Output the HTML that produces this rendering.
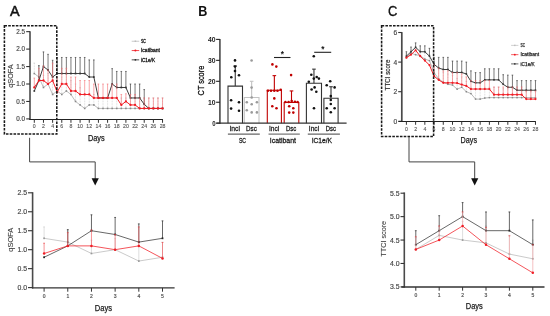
<!DOCTYPE html><html><head><meta charset="utf-8"><style>html,body{margin:0;padding:0;background:#fff;overflow:hidden}svg{display:block;will-change:transform}text{font-family:"Liberation Sans",sans-serif}</style></head><body>
<svg width="550" height="316" viewBox="0 0 550 316">
<rect width="550" height="316" fill="#fff"/>
<text x="10" y="16.1" font-size="14.6" text-anchor="start" fill="#111" font-weight="normal" stroke="#111" stroke-width="0.5" textLength="9.6" lengthAdjust="spacingAndGlyphs" >A</text>
<line x1="34.3" y1="73.53" x2="34.3" y2="63.06" stroke="#c4c4c4" stroke-width="0.6" stroke-dasharray="0.9 0.7"/>
<line x1="33.5" y1="63.06" x2="35.1" y2="63.06" stroke="#c4c4c4" stroke-width="0.6" />
<line x1="38.88" y1="77.02" x2="38.88" y2="66.55" stroke="#c4c4c4" stroke-width="0.6" stroke-dasharray="0.9 0.7"/>
<line x1="38.08" y1="66.55" x2="39.68" y2="66.55" stroke="#c4c4c4" stroke-width="0.6" />
<line x1="43.46" y1="87.49" x2="43.46" y2="75.28" stroke="#c4c4c4" stroke-width="0.6" stroke-dasharray="0.9 0.7"/>
<line x1="42.66" y1="75.28" x2="44.26" y2="75.28" stroke="#c4c4c4" stroke-width="0.6" />
<line x1="48.04" y1="84" x2="48.04" y2="73.53" stroke="#c4c4c4" stroke-width="0.6" stroke-dasharray="0.9 0.7"/>
<line x1="47.24" y1="73.53" x2="48.84" y2="73.53" stroke="#c4c4c4" stroke-width="0.6" />
<line x1="52.62" y1="94.47" x2="52.62" y2="77.02" stroke="#c4c4c4" stroke-width="0.6" stroke-dasharray="0.9 0.7"/>
<line x1="51.82" y1="77.02" x2="53.42" y2="77.02" stroke="#c4c4c4" stroke-width="0.6" />
<line x1="57.2" y1="90.98" x2="57.2" y2="77.02" stroke="#c4c4c4" stroke-width="0.6" stroke-dasharray="0.9 0.7"/>
<line x1="56.4" y1="77.02" x2="58" y2="77.02" stroke="#c4c4c4" stroke-width="0.6" />
<line x1="61.78" y1="94.47" x2="61.78" y2="77.02" stroke="#c4c4c4" stroke-width="0.6" stroke-dasharray="0.9 0.7"/>
<line x1="60.98" y1="77.02" x2="62.58" y2="77.02" stroke="#c4c4c4" stroke-width="0.6" />
<line x1="66.36" y1="90.98" x2="66.36" y2="73.53" stroke="#c4c4c4" stroke-width="0.6" stroke-dasharray="0.9 0.7"/>
<line x1="65.56" y1="73.53" x2="67.16" y2="73.53" stroke="#c4c4c4" stroke-width="0.6" />
<line x1="70.94" y1="94.47" x2="70.94" y2="80.51" stroke="#c4c4c4" stroke-width="0.6" stroke-dasharray="0.9 0.7"/>
<line x1="70.14" y1="80.51" x2="71.74" y2="80.51" stroke="#c4c4c4" stroke-width="0.6" />
<line x1="75.52" y1="101.45" x2="75.52" y2="84" stroke="#c4c4c4" stroke-width="0.6" stroke-dasharray="0.9 0.7"/>
<line x1="74.72" y1="84" x2="76.32" y2="84" stroke="#c4c4c4" stroke-width="0.6" />
<line x1="80.1" y1="104.94" x2="80.1" y2="87.49" stroke="#c4c4c4" stroke-width="0.6" stroke-dasharray="0.9 0.7"/>
<line x1="79.3" y1="87.49" x2="80.9" y2="87.49" stroke="#c4c4c4" stroke-width="0.6" />
<line x1="84.68" y1="108.43" x2="84.68" y2="94.47" stroke="#c4c4c4" stroke-width="0.6" stroke-dasharray="0.9 0.7"/>
<line x1="83.88" y1="94.47" x2="85.48" y2="94.47" stroke="#c4c4c4" stroke-width="0.6" />
<line x1="89.26" y1="104.94" x2="89.26" y2="94.47" stroke="#c4c4c4" stroke-width="0.6" stroke-dasharray="0.9 0.7"/>
<line x1="88.46" y1="94.47" x2="90.06" y2="94.47" stroke="#c4c4c4" stroke-width="0.6" />
<line x1="93.84" y1="104.94" x2="93.84" y2="94.47" stroke="#c4c4c4" stroke-width="0.6" stroke-dasharray="0.9 0.7"/>
<line x1="93.04" y1="94.47" x2="94.64" y2="94.47" stroke="#c4c4c4" stroke-width="0.6" />
<line x1="98.42" y1="108.43" x2="98.42" y2="97.96" stroke="#c4c4c4" stroke-width="0.6" stroke-dasharray="0.9 0.7"/>
<line x1="97.62" y1="97.96" x2="99.22" y2="97.96" stroke="#c4c4c4" stroke-width="0.6" />
<line x1="103" y1="108.43" x2="103" y2="97.96" stroke="#c4c4c4" stroke-width="0.6" stroke-dasharray="0.9 0.7"/>
<line x1="102.2" y1="97.96" x2="103.8" y2="97.96" stroke="#c4c4c4" stroke-width="0.6" />
<line x1="107.58" y1="108.43" x2="107.58" y2="97.96" stroke="#c4c4c4" stroke-width="0.6" stroke-dasharray="0.9 0.7"/>
<line x1="106.78" y1="97.96" x2="108.38" y2="97.96" stroke="#c4c4c4" stroke-width="0.6" />
<line x1="112.16" y1="108.43" x2="112.16" y2="97.96" stroke="#c4c4c4" stroke-width="0.6" stroke-dasharray="0.9 0.7"/>
<line x1="111.36" y1="97.96" x2="112.96" y2="97.96" stroke="#c4c4c4" stroke-width="0.6" />
<line x1="116.74" y1="108.43" x2="116.74" y2="97.96" stroke="#c4c4c4" stroke-width="0.6" stroke-dasharray="0.9 0.7"/>
<line x1="115.94" y1="97.96" x2="117.54" y2="97.96" stroke="#c4c4c4" stroke-width="0.6" />
<line x1="121.32" y1="108.43" x2="121.32" y2="97.96" stroke="#c4c4c4" stroke-width="0.6" stroke-dasharray="0.9 0.7"/>
<line x1="120.52" y1="97.96" x2="122.12" y2="97.96" stroke="#c4c4c4" stroke-width="0.6" />
<line x1="125.9" y1="108.43" x2="125.9" y2="97.96" stroke="#c4c4c4" stroke-width="0.6" stroke-dasharray="0.9 0.7"/>
<line x1="125.1" y1="97.96" x2="126.7" y2="97.96" stroke="#c4c4c4" stroke-width="0.6" />
<line x1="130.48" y1="108.43" x2="130.48" y2="97.96" stroke="#c4c4c4" stroke-width="0.6" stroke-dasharray="0.9 0.7"/>
<line x1="129.68" y1="97.96" x2="131.28" y2="97.96" stroke="#c4c4c4" stroke-width="0.6" />
<line x1="135.06" y1="108.43" x2="135.06" y2="97.96" stroke="#c4c4c4" stroke-width="0.6" stroke-dasharray="0.9 0.7"/>
<line x1="134.26" y1="97.96" x2="135.86" y2="97.96" stroke="#c4c4c4" stroke-width="0.6" />
<line x1="139.64" y1="108.43" x2="139.64" y2="97.96" stroke="#c4c4c4" stroke-width="0.6" stroke-dasharray="0.9 0.7"/>
<line x1="138.84" y1="97.96" x2="140.44" y2="97.96" stroke="#c4c4c4" stroke-width="0.6" />
<line x1="144.22" y1="108.43" x2="144.22" y2="97.96" stroke="#c4c4c4" stroke-width="0.6" stroke-dasharray="0.9 0.7"/>
<line x1="143.42" y1="97.96" x2="145.02" y2="97.96" stroke="#c4c4c4" stroke-width="0.6" />
<line x1="148.8" y1="108.43" x2="148.8" y2="97.96" stroke="#c4c4c4" stroke-width="0.6" stroke-dasharray="0.9 0.7"/>
<line x1="148" y1="97.96" x2="149.6" y2="97.96" stroke="#c4c4c4" stroke-width="0.6" />
<line x1="153.38" y1="108.43" x2="153.38" y2="97.96" stroke="#c4c4c4" stroke-width="0.6" stroke-dasharray="0.9 0.7"/>
<line x1="152.58" y1="97.96" x2="154.18" y2="97.96" stroke="#c4c4c4" stroke-width="0.6" />
<line x1="157.96" y1="108.43" x2="157.96" y2="97.96" stroke="#c4c4c4" stroke-width="0.6" stroke-dasharray="0.9 0.7"/>
<line x1="157.16" y1="97.96" x2="158.76" y2="97.96" stroke="#c4c4c4" stroke-width="0.6" />
<line x1="162.54" y1="108.43" x2="162.54" y2="97.96" stroke="#c4c4c4" stroke-width="0.6" stroke-dasharray="0.9 0.7"/>
<line x1="161.74" y1="97.96" x2="163.34" y2="97.96" stroke="#c4c4c4" stroke-width="0.6" />
<polyline points="34.3,73.53 38.88,77.02 43.46,87.49 48.04,84 52.62,94.47 57.2,90.98 61.78,94.47 66.36,90.98 70.94,94.47 75.52,101.45 80.1,104.94 84.68,108.43 89.26,104.94 93.84,104.94 98.42,108.43 103,108.43 107.58,108.43 112.16,108.43 116.74,108.43 121.32,108.43 125.9,108.43 130.48,108.43 135.06,108.43 139.64,108.43 144.22,108.43 148.8,108.43 153.38,108.43 157.96,108.43 162.54,108.43" fill="none" stroke="#a6a6a6" stroke-width="0.75" stroke-linejoin="round"/>
<rect x="33.5" y="72.73" width="1.6" height="1.6" fill="#888"/>
<rect x="38.08" y="76.22" width="1.6" height="1.6" fill="#888"/>
<rect x="42.66" y="86.69" width="1.6" height="1.6" fill="#888"/>
<rect x="47.24" y="83.2" width="1.6" height="1.6" fill="#888"/>
<rect x="51.82" y="93.67" width="1.6" height="1.6" fill="#888"/>
<rect x="56.4" y="90.18" width="1.6" height="1.6" fill="#888"/>
<rect x="60.98" y="93.67" width="1.6" height="1.6" fill="#888"/>
<rect x="65.56" y="90.18" width="1.6" height="1.6" fill="#888"/>
<rect x="70.14" y="93.67" width="1.6" height="1.6" fill="#888"/>
<rect x="74.72" y="100.65" width="1.6" height="1.6" fill="#888"/>
<rect x="79.3" y="104.14" width="1.6" height="1.6" fill="#888"/>
<rect x="83.88" y="107.63" width="1.6" height="1.6" fill="#888"/>
<rect x="88.46" y="104.14" width="1.6" height="1.6" fill="#888"/>
<rect x="93.04" y="104.14" width="1.6" height="1.6" fill="#888"/>
<rect x="97.62" y="107.63" width="1.6" height="1.6" fill="#888"/>
<rect x="102.2" y="107.63" width="1.6" height="1.6" fill="#888"/>
<rect x="106.78" y="107.63" width="1.6" height="1.6" fill="#888"/>
<rect x="111.36" y="107.63" width="1.6" height="1.6" fill="#888"/>
<rect x="115.94" y="107.63" width="1.6" height="1.6" fill="#888"/>
<rect x="120.52" y="107.63" width="1.6" height="1.6" fill="#888"/>
<rect x="125.1" y="107.63" width="1.6" height="1.6" fill="#888"/>
<rect x="129.68" y="107.63" width="1.6" height="1.6" fill="#888"/>
<rect x="134.26" y="107.63" width="1.6" height="1.6" fill="#888"/>
<rect x="138.84" y="107.63" width="1.6" height="1.6" fill="#888"/>
<rect x="143.42" y="107.63" width="1.6" height="1.6" fill="#888"/>
<rect x="148" y="107.63" width="1.6" height="1.6" fill="#888"/>
<rect x="152.58" y="107.63" width="1.6" height="1.6" fill="#888"/>
<rect x="157.16" y="107.63" width="1.6" height="1.6" fill="#888"/>
<rect x="161.74" y="107.63" width="1.6" height="1.6" fill="#888"/>
<line x1="38.88" y1="80.51" x2="38.88" y2="65.5" stroke="#333" stroke-width="0.65" />
<line x1="38.08" y1="65.5" x2="39.68" y2="65.5" stroke="#333" stroke-width="0.65" />
<line x1="43.46" y1="66.55" x2="43.46" y2="51.89" stroke="#333" stroke-width="0.65" />
<line x1="42.66" y1="51.89" x2="44.26" y2="51.89" stroke="#333" stroke-width="0.65" />
<line x1="48.04" y1="70.04" x2="48.04" y2="54.34" stroke="#333" stroke-width="0.65" />
<line x1="47.24" y1="54.34" x2="48.84" y2="54.34" stroke="#333" stroke-width="0.65" />
<line x1="52.62" y1="77.02" x2="52.62" y2="60.27" stroke="#333" stroke-width="0.65" />
<line x1="51.82" y1="60.27" x2="53.42" y2="60.27" stroke="#333" stroke-width="0.65" />
<line x1="57.2" y1="73.53" x2="57.2" y2="57.48" stroke="#333" stroke-width="0.65" />
<line x1="56.4" y1="57.48" x2="58" y2="57.48" stroke="#333" stroke-width="0.65" />
<line x1="61.78" y1="73.53" x2="61.78" y2="57.48" stroke="#333" stroke-width="0.65" />
<line x1="60.98" y1="57.48" x2="62.58" y2="57.48" stroke="#333" stroke-width="0.65" />
<line x1="66.36" y1="73.53" x2="66.36" y2="57.48" stroke="#333" stroke-width="0.65" />
<line x1="65.56" y1="57.48" x2="67.16" y2="57.48" stroke="#333" stroke-width="0.65" />
<line x1="70.94" y1="73.53" x2="70.94" y2="57.48" stroke="#333" stroke-width="0.65" />
<line x1="70.14" y1="57.48" x2="71.74" y2="57.48" stroke="#333" stroke-width="0.65" />
<line x1="75.52" y1="73.53" x2="75.52" y2="57.48" stroke="#333" stroke-width="0.65" />
<line x1="74.72" y1="57.48" x2="76.32" y2="57.48" stroke="#333" stroke-width="0.65" />
<line x1="80.1" y1="73.53" x2="80.1" y2="57.48" stroke="#333" stroke-width="0.65" />
<line x1="79.3" y1="57.48" x2="80.9" y2="57.48" stroke="#333" stroke-width="0.65" />
<line x1="84.68" y1="73.53" x2="84.68" y2="57.48" stroke="#333" stroke-width="0.65" />
<line x1="83.88" y1="57.48" x2="85.48" y2="57.48" stroke="#333" stroke-width="0.65" />
<line x1="89.26" y1="77.02" x2="89.26" y2="59.92" stroke="#333" stroke-width="0.65" />
<line x1="88.46" y1="59.92" x2="90.06" y2="59.92" stroke="#333" stroke-width="0.65" />
<line x1="93.84" y1="77.02" x2="93.84" y2="59.92" stroke="#333" stroke-width="0.65" />
<line x1="93.04" y1="59.92" x2="94.64" y2="59.92" stroke="#333" stroke-width="0.65" />
<line x1="112.16" y1="84" x2="112.16" y2="68.64" stroke="#333" stroke-width="0.65" />
<line x1="111.36" y1="68.64" x2="112.96" y2="68.64" stroke="#333" stroke-width="0.65" />
<line x1="116.74" y1="87.49" x2="116.74" y2="71.44" stroke="#333" stroke-width="0.65" />
<line x1="115.94" y1="71.44" x2="117.54" y2="71.44" stroke="#333" stroke-width="0.65" />
<line x1="121.32" y1="87.49" x2="121.32" y2="71.44" stroke="#333" stroke-width="0.65" />
<line x1="120.52" y1="71.44" x2="122.12" y2="71.44" stroke="#333" stroke-width="0.65" />
<line x1="125.9" y1="87.49" x2="125.9" y2="71.44" stroke="#333" stroke-width="0.65" />
<line x1="125.1" y1="71.44" x2="126.7" y2="71.44" stroke="#333" stroke-width="0.65" />
<line x1="130.48" y1="97.96" x2="130.48" y2="84" stroke="#333" stroke-width="0.65" />
<line x1="129.68" y1="84" x2="131.28" y2="84" stroke="#333" stroke-width="0.65" />
<line x1="135.06" y1="97.96" x2="135.06" y2="84" stroke="#333" stroke-width="0.65" />
<line x1="134.26" y1="84" x2="135.86" y2="84" stroke="#333" stroke-width="0.65" />
<line x1="139.64" y1="97.96" x2="139.64" y2="84" stroke="#333" stroke-width="0.65" />
<line x1="138.84" y1="84" x2="140.44" y2="84" stroke="#333" stroke-width="0.65" />
<line x1="144.22" y1="104.24" x2="144.22" y2="89.58" stroke="#333" stroke-width="0.65" />
<line x1="143.42" y1="89.58" x2="145.02" y2="89.58" stroke="#333" stroke-width="0.65" />
<polyline points="34.3,90.98 38.88,80.51 43.46,66.55 48.04,70.04 52.62,77.02 57.2,73.53 61.78,73.53 66.36,73.53 70.94,73.53 75.52,73.53 80.1,73.53 84.68,73.53 89.26,77.02 93.84,77.02 98.42,97.96 103,97.96 107.58,97.96 112.16,84 116.74,87.49 121.32,87.49 125.9,87.49 130.48,97.96 135.06,97.96 139.64,97.96 144.22,104.24 148.8,108.43 153.38,108.43 157.96,108.43 162.54,108.43" fill="none" stroke="#333" stroke-width="0.95" stroke-linejoin="round"/>
<rect x="33.45" y="90.13" width="1.7" height="1.7" fill="#333"/>
<rect x="38.03" y="79.66" width="1.7" height="1.7" fill="#333"/>
<rect x="42.61" y="65.7" width="1.7" height="1.7" fill="#333"/>
<rect x="47.19" y="69.19" width="1.7" height="1.7" fill="#333"/>
<rect x="51.77" y="76.17" width="1.7" height="1.7" fill="#333"/>
<rect x="56.35" y="72.68" width="1.7" height="1.7" fill="#333"/>
<rect x="60.93" y="72.68" width="1.7" height="1.7" fill="#333"/>
<rect x="65.51" y="72.68" width="1.7" height="1.7" fill="#333"/>
<rect x="70.09" y="72.68" width="1.7" height="1.7" fill="#333"/>
<rect x="74.67" y="72.68" width="1.7" height="1.7" fill="#333"/>
<rect x="79.25" y="72.68" width="1.7" height="1.7" fill="#333"/>
<rect x="83.83" y="72.68" width="1.7" height="1.7" fill="#333"/>
<rect x="88.41" y="76.17" width="1.7" height="1.7" fill="#333"/>
<rect x="92.99" y="76.17" width="1.7" height="1.7" fill="#333"/>
<rect x="97.57" y="97.11" width="1.7" height="1.7" fill="#333"/>
<rect x="102.15" y="97.11" width="1.7" height="1.7" fill="#333"/>
<rect x="106.73" y="97.11" width="1.7" height="1.7" fill="#333"/>
<rect x="111.31" y="83.15" width="1.7" height="1.7" fill="#333"/>
<rect x="115.89" y="86.64" width="1.7" height="1.7" fill="#333"/>
<rect x="120.47" y="86.64" width="1.7" height="1.7" fill="#333"/>
<rect x="125.05" y="86.64" width="1.7" height="1.7" fill="#333"/>
<rect x="129.63" y="97.11" width="1.7" height="1.7" fill="#333"/>
<rect x="134.21" y="97.11" width="1.7" height="1.7" fill="#333"/>
<rect x="138.79" y="97.11" width="1.7" height="1.7" fill="#333"/>
<rect x="143.37" y="103.39" width="1.7" height="1.7" fill="#333"/>
<rect x="147.95" y="107.58" width="1.7" height="1.7" fill="#333"/>
<rect x="152.53" y="107.58" width="1.7" height="1.7" fill="#333"/>
<rect x="157.11" y="107.58" width="1.7" height="1.7" fill="#333"/>
<rect x="161.69" y="107.58" width="1.7" height="1.7" fill="#333"/>
<line x1="34.3" y1="87.49" x2="34.3" y2="78.07" stroke="#f36a6e" stroke-width="0.6" />
<line x1="33.5" y1="78.07" x2="35.1" y2="78.07" stroke="#f36a6e" stroke-width="0.6" />
<line x1="38.88" y1="80.51" x2="38.88" y2="68.3" stroke="#f36a6e" stroke-width="0.6" />
<line x1="38.08" y1="68.3" x2="39.68" y2="68.3" stroke="#f36a6e" stroke-width="0.6" />
<line x1="43.46" y1="80.51" x2="43.46" y2="65.85" stroke="#f36a6e" stroke-width="0.6" />
<line x1="42.66" y1="65.85" x2="44.26" y2="65.85" stroke="#f36a6e" stroke-width="0.6" />
<line x1="48.04" y1="84" x2="48.04" y2="70.04" stroke="#f36a6e" stroke-width="0.6" />
<line x1="47.24" y1="70.04" x2="48.84" y2="70.04" stroke="#f36a6e" stroke-width="0.6" />
<line x1="52.62" y1="80.51" x2="52.62" y2="63.06" stroke="#f36a6e" stroke-width="0.6" />
<line x1="51.82" y1="63.06" x2="53.42" y2="63.06" stroke="#f36a6e" stroke-width="0.6" />
<line x1="57.2" y1="92.03" x2="57.2" y2="77.37" stroke="#f36a6e" stroke-width="0.6" />
<line x1="56.4" y1="77.37" x2="58" y2="77.37" stroke="#f36a6e" stroke-width="0.6" />
<line x1="61.78" y1="84" x2="61.78" y2="68.3" stroke="#f36a6e" stroke-width="0.6" />
<line x1="60.98" y1="68.3" x2="62.58" y2="68.3" stroke="#f36a6e" stroke-width="0.6" />
<line x1="66.36" y1="84" x2="66.36" y2="68.3" stroke="#f36a6e" stroke-width="0.6" />
<line x1="65.56" y1="68.3" x2="67.16" y2="68.3" stroke="#f36a6e" stroke-width="0.6" />
<line x1="70.94" y1="90.98" x2="70.94" y2="77.02" stroke="#f36a6e" stroke-width="0.6" />
<line x1="70.14" y1="77.02" x2="71.74" y2="77.02" stroke="#f36a6e" stroke-width="0.6" />
<line x1="75.52" y1="90.98" x2="75.52" y2="77.02" stroke="#f36a6e" stroke-width="0.6" />
<line x1="74.72" y1="77.02" x2="76.32" y2="77.02" stroke="#f36a6e" stroke-width="0.6" />
<line x1="80.1" y1="94.47" x2="80.1" y2="80.51" stroke="#f36a6e" stroke-width="0.6" />
<line x1="79.3" y1="80.51" x2="80.9" y2="80.51" stroke="#f36a6e" stroke-width="0.6" />
<line x1="84.68" y1="94.47" x2="84.68" y2="80.51" stroke="#f36a6e" stroke-width="0.6" />
<line x1="83.88" y1="80.51" x2="85.48" y2="80.51" stroke="#f36a6e" stroke-width="0.6" />
<line x1="89.26" y1="94.47" x2="89.26" y2="80.51" stroke="#f36a6e" stroke-width="0.6" />
<line x1="88.46" y1="80.51" x2="90.06" y2="80.51" stroke="#f36a6e" stroke-width="0.6" />
<line x1="93.84" y1="97.96" x2="93.84" y2="84" stroke="#f36a6e" stroke-width="0.6" />
<line x1="93.04" y1="84" x2="94.64" y2="84" stroke="#f36a6e" stroke-width="0.6" />
<line x1="98.42" y1="97.96" x2="98.42" y2="84" stroke="#f36a6e" stroke-width="0.6" />
<line x1="97.62" y1="84" x2="99.22" y2="84" stroke="#f36a6e" stroke-width="0.6" />
<line x1="103" y1="97.96" x2="103" y2="84" stroke="#f36a6e" stroke-width="0.6" />
<line x1="102.2" y1="84" x2="103.8" y2="84" stroke="#f36a6e" stroke-width="0.6" />
<line x1="107.58" y1="97.96" x2="107.58" y2="84" stroke="#f36a6e" stroke-width="0.6" />
<line x1="106.78" y1="84" x2="108.38" y2="84" stroke="#f36a6e" stroke-width="0.6" />
<line x1="112.16" y1="97.96" x2="112.16" y2="84" stroke="#f36a6e" stroke-width="0.6" />
<line x1="111.36" y1="84" x2="112.96" y2="84" stroke="#f36a6e" stroke-width="0.6" />
<line x1="116.74" y1="97.96" x2="116.74" y2="84" stroke="#f36a6e" stroke-width="0.6" />
<line x1="115.94" y1="84" x2="117.54" y2="84" stroke="#f36a6e" stroke-width="0.6" />
<line x1="121.32" y1="104.94" x2="121.32" y2="94.47" stroke="#f36a6e" stroke-width="0.6" />
<line x1="120.52" y1="94.47" x2="122.12" y2="94.47" stroke="#f36a6e" stroke-width="0.6" />
<line x1="125.9" y1="101.45" x2="125.9" y2="93.77" stroke="#f36a6e" stroke-width="0.6" />
<line x1="125.1" y1="93.77" x2="126.7" y2="93.77" stroke="#f36a6e" stroke-width="0.6" />
<line x1="130.48" y1="104.94" x2="130.48" y2="94.47" stroke="#f36a6e" stroke-width="0.6" />
<line x1="129.68" y1="94.47" x2="131.28" y2="94.47" stroke="#f36a6e" stroke-width="0.6" />
<line x1="135.06" y1="104.94" x2="135.06" y2="94.47" stroke="#f36a6e" stroke-width="0.6" />
<line x1="134.26" y1="94.47" x2="135.86" y2="94.47" stroke="#f36a6e" stroke-width="0.6" />
<line x1="139.64" y1="108.43" x2="139.64" y2="97.96" stroke="#f36a6e" stroke-width="0.6" />
<line x1="138.84" y1="97.96" x2="140.44" y2="97.96" stroke="#f36a6e" stroke-width="0.6" />
<line x1="144.22" y1="108.43" x2="144.22" y2="97.96" stroke="#f36a6e" stroke-width="0.6" />
<line x1="143.42" y1="97.96" x2="145.02" y2="97.96" stroke="#f36a6e" stroke-width="0.6" />
<line x1="148.8" y1="108.43" x2="148.8" y2="97.96" stroke="#f36a6e" stroke-width="0.6" />
<line x1="148" y1="97.96" x2="149.6" y2="97.96" stroke="#f36a6e" stroke-width="0.6" />
<line x1="153.38" y1="108.43" x2="153.38" y2="97.96" stroke="#f36a6e" stroke-width="0.6" />
<line x1="152.58" y1="97.96" x2="154.18" y2="97.96" stroke="#f36a6e" stroke-width="0.6" />
<line x1="157.96" y1="108.43" x2="157.96" y2="97.96" stroke="#f36a6e" stroke-width="0.6" />
<line x1="157.16" y1="97.96" x2="158.76" y2="97.96" stroke="#f36a6e" stroke-width="0.6" />
<line x1="162.54" y1="108.43" x2="162.54" y2="97.96" stroke="#f36a6e" stroke-width="0.6" />
<line x1="161.74" y1="97.96" x2="163.34" y2="97.96" stroke="#f36a6e" stroke-width="0.6" />
<polyline points="34.3,87.49 38.88,80.51 43.46,80.51 48.04,84 52.62,80.51 57.2,92.03 61.78,84 66.36,84 70.94,90.98 75.52,90.98 80.1,94.47 84.68,94.47 89.26,94.47 93.84,97.96 98.42,97.96 103,97.96 107.58,97.96 112.16,97.96 116.74,97.96 121.32,104.94 125.9,101.45 130.48,104.94 135.06,104.94 139.64,108.43 144.22,108.43 148.8,108.43 153.38,108.43 157.96,108.43 162.54,108.43" fill="none" stroke="#f01c24" stroke-width="1.0" stroke-linejoin="round"/>
<circle cx="34.3" cy="87.49" r="1.15" fill="#f01c24"/>
<circle cx="38.88" cy="80.51" r="1.15" fill="#f01c24"/>
<circle cx="43.46" cy="80.51" r="1.15" fill="#f01c24"/>
<circle cx="48.04" cy="84" r="1.15" fill="#f01c24"/>
<circle cx="52.62" cy="80.51" r="1.15" fill="#f01c24"/>
<circle cx="57.2" cy="92.03" r="1.15" fill="#f01c24"/>
<circle cx="61.78" cy="84" r="1.15" fill="#f01c24"/>
<circle cx="66.36" cy="84" r="1.15" fill="#f01c24"/>
<circle cx="70.94" cy="90.98" r="1.15" fill="#f01c24"/>
<circle cx="75.52" cy="90.98" r="1.15" fill="#f01c24"/>
<circle cx="80.1" cy="94.47" r="1.15" fill="#f01c24"/>
<circle cx="84.68" cy="94.47" r="1.15" fill="#f01c24"/>
<circle cx="89.26" cy="94.47" r="1.15" fill="#f01c24"/>
<circle cx="93.84" cy="97.96" r="1.15" fill="#f01c24"/>
<circle cx="98.42" cy="97.96" r="1.15" fill="#f01c24"/>
<circle cx="103" cy="97.96" r="1.15" fill="#f01c24"/>
<circle cx="107.58" cy="97.96" r="1.15" fill="#f01c24"/>
<circle cx="112.16" cy="97.96" r="1.15" fill="#f01c24"/>
<circle cx="116.74" cy="97.96" r="1.15" fill="#f01c24"/>
<circle cx="121.32" cy="104.94" r="1.15" fill="#f01c24"/>
<circle cx="125.9" cy="101.45" r="1.15" fill="#f01c24"/>
<circle cx="130.48" cy="104.94" r="1.15" fill="#f01c24"/>
<circle cx="135.06" cy="104.94" r="1.15" fill="#f01c24"/>
<circle cx="139.64" cy="108.43" r="1.15" fill="#f01c24"/>
<circle cx="144.22" cy="108.43" r="1.15" fill="#f01c24"/>
<circle cx="148.8" cy="108.43" r="1.15" fill="#f01c24"/>
<circle cx="153.38" cy="108.43" r="1.15" fill="#f01c24"/>
<circle cx="157.96" cy="108.43" r="1.15" fill="#f01c24"/>
<circle cx="162.54" cy="108.43" r="1.15" fill="#f01c24"/>
<line x1="30" y1="31.3" x2="30" y2="119.9" stroke="#4a4a4a" stroke-width="1.6" />
<line x1="26.2" y1="118.9" x2="30" y2="118.9" stroke="#333" stroke-width="1.1" />
<text x="25.1" y="121.15" font-size="6.3" text-anchor="end" fill="#444" font-weight="normal" stroke="#444" stroke-width="0.15" >0.0</text>
<line x1="26.2" y1="101.45" x2="30" y2="101.45" stroke="#333" stroke-width="1.1" />
<text x="25.1" y="103.7" font-size="6.3" text-anchor="end" fill="#444" font-weight="normal" stroke="#444" stroke-width="0.15" >0.5</text>
<line x1="26.2" y1="84" x2="30" y2="84" stroke="#333" stroke-width="1.1" />
<text x="25.1" y="86.25" font-size="6.3" text-anchor="end" fill="#444" font-weight="normal" stroke="#444" stroke-width="0.15" >1.0</text>
<line x1="26.2" y1="66.55" x2="30" y2="66.55" stroke="#333" stroke-width="1.1" />
<text x="25.1" y="68.8" font-size="6.3" text-anchor="end" fill="#444" font-weight="normal" stroke="#444" stroke-width="0.15" >1.5</text>
<line x1="26.2" y1="49.1" x2="30" y2="49.1" stroke="#333" stroke-width="1.1" />
<text x="25.1" y="51.35" font-size="6.3" text-anchor="end" fill="#444" font-weight="normal" stroke="#444" stroke-width="0.15" >2.0</text>
<line x1="26.2" y1="31.65" x2="30" y2="31.65" stroke="#333" stroke-width="1.1" />
<text x="25.1" y="33.9" font-size="6.3" text-anchor="end" fill="#444" font-weight="normal" stroke="#444" stroke-width="0.15" >2.5</text>
<line x1="29.4" y1="119.5" x2="163" y2="119.5" stroke="#222" stroke-width="1.05" />
<line x1="34.3" y1="119.5" x2="34.3" y2="122.8" stroke="#333" stroke-width="1.0" />
<text x="34.3" y="128.1" font-size="5.2" text-anchor="middle" fill="#555" font-weight="normal" stroke="#555" stroke-width="0.1" >0</text>
<line x1="43.46" y1="119.5" x2="43.46" y2="122.8" stroke="#333" stroke-width="1.0" />
<text x="43.46" y="128.1" font-size="5.2" text-anchor="middle" fill="#555" font-weight="normal" stroke="#555" stroke-width="0.1" >2</text>
<line x1="52.62" y1="119.5" x2="52.62" y2="122.8" stroke="#333" stroke-width="1.0" />
<text x="52.62" y="128.1" font-size="5.2" text-anchor="middle" fill="#555" font-weight="normal" stroke="#555" stroke-width="0.1" >4</text>
<line x1="61.78" y1="119.5" x2="61.78" y2="122.8" stroke="#333" stroke-width="1.0" />
<text x="61.78" y="128.1" font-size="5.2" text-anchor="middle" fill="#555" font-weight="normal" stroke="#555" stroke-width="0.1" >6</text>
<line x1="70.94" y1="119.5" x2="70.94" y2="122.8" stroke="#333" stroke-width="1.0" />
<text x="70.94" y="128.1" font-size="5.2" text-anchor="middle" fill="#555" font-weight="normal" stroke="#555" stroke-width="0.1" >8</text>
<line x1="80.1" y1="119.5" x2="80.1" y2="122.8" stroke="#333" stroke-width="1.0" />
<text x="80.1" y="128.1" font-size="5.2" text-anchor="middle" fill="#555" font-weight="normal" stroke="#555" stroke-width="0.1" >10</text>
<line x1="89.26" y1="119.5" x2="89.26" y2="122.8" stroke="#333" stroke-width="1.0" />
<text x="89.26" y="128.1" font-size="5.2" text-anchor="middle" fill="#555" font-weight="normal" stroke="#555" stroke-width="0.1" >12</text>
<line x1="98.42" y1="119.5" x2="98.42" y2="122.8" stroke="#333" stroke-width="1.0" />
<text x="98.42" y="128.1" font-size="5.2" text-anchor="middle" fill="#555" font-weight="normal" stroke="#555" stroke-width="0.1" >14</text>
<line x1="107.58" y1="119.5" x2="107.58" y2="122.8" stroke="#333" stroke-width="1.0" />
<text x="107.58" y="128.1" font-size="5.2" text-anchor="middle" fill="#555" font-weight="normal" stroke="#555" stroke-width="0.1" >16</text>
<line x1="116.74" y1="119.5" x2="116.74" y2="122.8" stroke="#333" stroke-width="1.0" />
<text x="116.74" y="128.1" font-size="5.2" text-anchor="middle" fill="#555" font-weight="normal" stroke="#555" stroke-width="0.1" >18</text>
<line x1="125.9" y1="119.5" x2="125.9" y2="122.8" stroke="#333" stroke-width="1.0" />
<text x="125.9" y="128.1" font-size="5.2" text-anchor="middle" fill="#555" font-weight="normal" stroke="#555" stroke-width="0.1" >20</text>
<line x1="135.06" y1="119.5" x2="135.06" y2="122.8" stroke="#333" stroke-width="1.0" />
<text x="135.06" y="128.1" font-size="5.2" text-anchor="middle" fill="#555" font-weight="normal" stroke="#555" stroke-width="0.1" >22</text>
<line x1="144.22" y1="119.5" x2="144.22" y2="122.8" stroke="#333" stroke-width="1.0" />
<text x="144.22" y="128.1" font-size="5.2" text-anchor="middle" fill="#555" font-weight="normal" stroke="#555" stroke-width="0.1" >24</text>
<line x1="153.38" y1="119.5" x2="153.38" y2="122.8" stroke="#333" stroke-width="1.0" />
<text x="153.38" y="128.1" font-size="5.2" text-anchor="middle" fill="#555" font-weight="normal" stroke="#555" stroke-width="0.1" >26</text>
<line x1="162.54" y1="119.5" x2="162.54" y2="122.8" stroke="#333" stroke-width="1.0" />
<text x="162.54" y="128.1" font-size="5.2" text-anchor="middle" fill="#555" font-weight="normal" stroke="#555" stroke-width="0.1" >28</text>
<text x="88" y="140.6" font-size="8.2" text-anchor="start" fill="#222" font-weight="normal" stroke="#222" stroke-width="0.25" textLength="16.7" lengthAdjust="spacingAndGlyphs" >Days</text>
<text x="0" y="0" font-size="7.2" text-anchor="middle" fill="#444" font-weight="normal" stroke="#444" stroke-width="0.15" textLength="23.4" lengthAdjust="spacingAndGlyphs" transform="translate(12.8,76) rotate(-90)">qSOFA</text>
<line x1="131.7" y1="41.25" x2="139.2" y2="41.25" stroke="#bdbdbd" stroke-width="0.8" />
<rect x="134.65" y="40.5" width="1.5" height="1.5" fill="#bdbdbd"/>
<text x="140.9" y="42.95" font-size="5.8" text-anchor="start" fill="#111" font-weight="normal" stroke="#111" stroke-width="0.3" textLength="5" lengthAdjust="spacingAndGlyphs" >SC</text>
<line x1="131.7" y1="50.55" x2="139.2" y2="50.55" stroke="#f01c24" stroke-width="0.8" />
<circle cx="135.4" cy="50.55" r="1.0" fill="#f01c24"/>
<text x="140.9" y="52.25" font-size="5.8" text-anchor="start" fill="#111" font-weight="normal" stroke="#111" stroke-width="0.3" textLength="19.1" lengthAdjust="spacingAndGlyphs" >Icatibant</text>
<line x1="131.7" y1="59.85" x2="139.2" y2="59.85" stroke="#262626" stroke-width="0.8" />
<rect x="134.65" y="59.1" width="1.5" height="1.5" fill="#262626"/>
<text x="140.9" y="61.55" font-size="5.8" text-anchor="start" fill="#111" font-weight="normal" stroke="#111" stroke-width="0.3" textLength="14.2" lengthAdjust="spacingAndGlyphs" >iC1e/K</text>
<rect x="4.4" y="25.7" width="52.4" height="108.3" fill="none" stroke="#1a1a1a" stroke-width="1.55" stroke-dasharray="2.6 1.2"/>
<polyline points="29.6,137.8 29.6,161.9 95.2,161.9 95.2,179" fill="none" stroke="#444" stroke-width="1"/>
<polygon points="91.6,178.3 98.8,178.3 95.2,185.6" fill="#111"/>
<line x1="44.1" y1="238.3" x2="44.1" y2="226.93" stroke="#c8c8c8" stroke-width="0.6" />
<line x1="43.2" y1="226.93" x2="45" y2="226.93" stroke="#c8c8c8" stroke-width="0.6" />
<line x1="67.78" y1="242.1" x2="67.78" y2="230.72" stroke="#c8c8c8" stroke-width="0.6" />
<line x1="66.88" y1="230.72" x2="68.68" y2="230.72" stroke="#c8c8c8" stroke-width="0.6" />
<line x1="91.46" y1="253.47" x2="91.46" y2="240.2" stroke="#c8c8c8" stroke-width="0.6" />
<line x1="90.56" y1="240.2" x2="92.36" y2="240.2" stroke="#c8c8c8" stroke-width="0.6" />
<line x1="115.14" y1="249.68" x2="115.14" y2="238.3" stroke="#c8c8c8" stroke-width="0.6" />
<line x1="114.24" y1="238.3" x2="116.04" y2="238.3" stroke="#c8c8c8" stroke-width="0.6" />
<line x1="138.82" y1="261.06" x2="138.82" y2="242.1" stroke="#c8c8c8" stroke-width="0.6" />
<line x1="137.92" y1="242.1" x2="139.72" y2="242.1" stroke="#c8c8c8" stroke-width="0.6" />
<line x1="162.5" y1="257.26" x2="162.5" y2="242.1" stroke="#c8c8c8" stroke-width="0.6" />
<line x1="161.6" y1="242.1" x2="163.4" y2="242.1" stroke="#c8c8c8" stroke-width="0.6" />
<polyline points="44.1,238.3 67.78,242.1 91.46,253.47 115.14,249.68 138.82,261.06 162.5,257.26" fill="none" stroke="#bdbdbd" stroke-width="0.8" stroke-linejoin="round"/>
<rect x="43.25" y="237.45" width="1.7" height="1.7" fill="#9a9a9a"/>
<rect x="66.93" y="241.25" width="1.7" height="1.7" fill="#9a9a9a"/>
<rect x="90.61" y="252.62" width="1.7" height="1.7" fill="#9a9a9a"/>
<rect x="114.29" y="248.83" width="1.7" height="1.7" fill="#9a9a9a"/>
<rect x="137.97" y="260.21" width="1.7" height="1.7" fill="#9a9a9a"/>
<rect x="161.65" y="256.41" width="1.7" height="1.7" fill="#9a9a9a"/>
<line x1="67.78" y1="245.89" x2="67.78" y2="229.58" stroke="#262626" stroke-width="0.7" />
<line x1="66.88" y1="229.58" x2="68.68" y2="229.58" stroke="#262626" stroke-width="0.7" />
<line x1="91.46" y1="230.72" x2="91.46" y2="214.79" stroke="#262626" stroke-width="0.7" />
<line x1="90.56" y1="214.79" x2="92.36" y2="214.79" stroke="#262626" stroke-width="0.7" />
<line x1="115.14" y1="234.51" x2="115.14" y2="217.45" stroke="#262626" stroke-width="0.7" />
<line x1="114.24" y1="217.45" x2="116.04" y2="217.45" stroke="#262626" stroke-width="0.7" />
<line x1="138.82" y1="242.1" x2="138.82" y2="223.89" stroke="#262626" stroke-width="0.7" />
<line x1="137.92" y1="223.89" x2="139.72" y2="223.89" stroke="#262626" stroke-width="0.7" />
<line x1="162.5" y1="238.3" x2="162.5" y2="220.86" stroke="#262626" stroke-width="0.7" />
<line x1="161.6" y1="220.86" x2="163.4" y2="220.86" stroke="#262626" stroke-width="0.7" />
<polyline points="44.1,257.26 67.78,245.89 91.46,230.72 115.14,234.51 138.82,242.1 162.5,238.3" fill="none" stroke="#262626" stroke-width="0.7" stroke-linejoin="round"/>
<rect x="43.2" y="256.36" width="1.8" height="1.8" fill="#262626"/>
<rect x="66.88" y="244.99" width="1.8" height="1.8" fill="#262626"/>
<rect x="90.56" y="229.82" width="1.8" height="1.8" fill="#262626"/>
<rect x="114.24" y="233.61" width="1.8" height="1.8" fill="#262626"/>
<rect x="137.92" y="241.2" width="1.8" height="1.8" fill="#262626"/>
<rect x="161.6" y="237.4" width="1.8" height="1.8" fill="#262626"/>
<line x1="44.1" y1="253.47" x2="44.1" y2="243.23" stroke="#f2575b" stroke-width="0.65" />
<line x1="43.2" y1="243.23" x2="45" y2="243.23" stroke="#e83a3e" stroke-width="0.65" />
<line x1="67.78" y1="245.89" x2="67.78" y2="232.62" stroke="#f2575b" stroke-width="0.65" />
<line x1="66.88" y1="232.62" x2="68.68" y2="232.62" stroke="#e83a3e" stroke-width="0.65" />
<line x1="91.46" y1="245.89" x2="91.46" y2="229.96" stroke="#f2575b" stroke-width="0.65" />
<line x1="90.56" y1="229.96" x2="92.36" y2="229.96" stroke="#e83a3e" stroke-width="0.65" />
<line x1="115.14" y1="249.68" x2="115.14" y2="234.51" stroke="#f2575b" stroke-width="0.65" />
<line x1="114.24" y1="234.51" x2="116.04" y2="234.51" stroke="#e83a3e" stroke-width="0.65" />
<line x1="138.82" y1="245.89" x2="138.82" y2="226.93" stroke="#f2575b" stroke-width="0.65" />
<line x1="137.92" y1="226.93" x2="139.72" y2="226.93" stroke="#e83a3e" stroke-width="0.65" />
<line x1="162.5" y1="258.4" x2="162.5" y2="242.48" stroke="#f2575b" stroke-width="0.65" />
<line x1="161.6" y1="242.48" x2="163.4" y2="242.48" stroke="#e83a3e" stroke-width="0.65" />
<polyline points="44.1,253.47 67.78,245.89 91.46,245.89 115.14,249.68 138.82,245.89 162.5,258.4" fill="none" stroke="#f01c24" stroke-width="0.75" stroke-linejoin="round"/>
<circle cx="44.1" cy="253.47" r="1.25" fill="#f01c24"/>
<circle cx="67.78" cy="245.89" r="1.25" fill="#f01c24"/>
<circle cx="91.46" cy="245.89" r="1.25" fill="#f01c24"/>
<circle cx="115.14" cy="249.68" r="1.25" fill="#f01c24"/>
<circle cx="138.82" cy="245.89" r="1.25" fill="#f01c24"/>
<circle cx="162.5" cy="258.4" r="1.25" fill="#f01c24"/>
<line x1="32.6" y1="192.2" x2="32.6" y2="288.5" stroke="#4a4a4a" stroke-width="1.6" />
<line x1="28" y1="287.6" x2="32.6" y2="287.6" stroke="#333" stroke-width="1.1" />
<text x="27.1" y="290.05" font-size="6.9" text-anchor="end" fill="#444" font-weight="normal" stroke="#444" stroke-width="0.15" >0.0</text>
<line x1="28" y1="268.64" x2="32.6" y2="268.64" stroke="#333" stroke-width="1.1" />
<text x="27.1" y="271.09" font-size="6.9" text-anchor="end" fill="#444" font-weight="normal" stroke="#444" stroke-width="0.15" >0.5</text>
<line x1="28" y1="249.68" x2="32.6" y2="249.68" stroke="#333" stroke-width="1.1" />
<text x="27.1" y="252.13" font-size="6.9" text-anchor="end" fill="#444" font-weight="normal" stroke="#444" stroke-width="0.15" >1.0</text>
<line x1="28" y1="230.72" x2="32.6" y2="230.72" stroke="#333" stroke-width="1.1" />
<text x="27.1" y="233.17" font-size="6.9" text-anchor="end" fill="#444" font-weight="normal" stroke="#444" stroke-width="0.15" >1.5</text>
<line x1="28" y1="211.76" x2="32.6" y2="211.76" stroke="#333" stroke-width="1.1" />
<text x="27.1" y="214.21" font-size="6.9" text-anchor="end" fill="#444" font-weight="normal" stroke="#444" stroke-width="0.15" >2.0</text>
<line x1="28" y1="192.8" x2="32.6" y2="192.8" stroke="#333" stroke-width="1.1" />
<text x="27.1" y="195.25" font-size="6.9" text-anchor="end" fill="#444" font-weight="normal" stroke="#444" stroke-width="0.15" >2.5</text>
<line x1="32" y1="287.9" x2="174.6" y2="287.9" stroke="#333" stroke-width="1.3" />
<line x1="44.1" y1="287.9" x2="44.1" y2="291.7" stroke="#333" stroke-width="1.0" />
<text x="44.1" y="298.1" font-size="5.0" text-anchor="middle" fill="#555" font-weight="normal" stroke="#555" stroke-width="0.2" >0</text>
<line x1="67.78" y1="287.9" x2="67.78" y2="291.7" stroke="#333" stroke-width="1.0" />
<text x="67.78" y="298.1" font-size="5.0" text-anchor="middle" fill="#555" font-weight="normal" stroke="#555" stroke-width="0.2" >1</text>
<line x1="91.46" y1="287.9" x2="91.46" y2="291.7" stroke="#333" stroke-width="1.0" />
<text x="91.46" y="298.1" font-size="5.0" text-anchor="middle" fill="#555" font-weight="normal" stroke="#555" stroke-width="0.2" >2</text>
<line x1="115.14" y1="287.9" x2="115.14" y2="291.7" stroke="#333" stroke-width="1.0" />
<text x="115.14" y="298.1" font-size="5.0" text-anchor="middle" fill="#555" font-weight="normal" stroke="#555" stroke-width="0.2" >3</text>
<line x1="138.82" y1="287.9" x2="138.82" y2="291.7" stroke="#333" stroke-width="1.0" />
<text x="138.82" y="298.1" font-size="5.0" text-anchor="middle" fill="#555" font-weight="normal" stroke="#555" stroke-width="0.2" >4</text>
<line x1="162.5" y1="287.9" x2="162.5" y2="291.7" stroke="#333" stroke-width="1.0" />
<text x="162.5" y="298.1" font-size="5.0" text-anchor="middle" fill="#555" font-weight="normal" stroke="#555" stroke-width="0.2" >5</text>
<text x="94.8" y="310.6" font-size="8.2" text-anchor="start" fill="#222" font-weight="normal" stroke="#222" stroke-width="0.25" textLength="17.2" lengthAdjust="spacingAndGlyphs" >Days</text>
<text x="0" y="0" font-size="7.4" text-anchor="middle" fill="#444" font-weight="normal" stroke="#444" stroke-width="0.12" textLength="24" lengthAdjust="spacingAndGlyphs" transform="translate(13.2,239.7) rotate(-90)">qSOFA</text>
<text x="198.2" y="16.2" font-size="15.4" text-anchor="start" fill="#111" font-weight="bold" textLength="9.1" lengthAdjust="spacingAndGlyphs" >B</text>
<line x1="219.9" y1="38.9" x2="219.9" y2="123.9" stroke="#555" stroke-width="1.7" />
<line x1="216.1" y1="123.2" x2="219.9" y2="123.2" stroke="#222" stroke-width="1.1" />
<text x="212.2" y="125.5" font-size="6.5" text-anchor="start" fill="#1a1a1a" font-weight="bold" textLength="3.4" lengthAdjust="spacingAndGlyphs" >0</text>
<line x1="216.1" y1="102.25" x2="219.9" y2="102.25" stroke="#222" stroke-width="1.1" />
<text x="208" y="104.55" font-size="6.5" text-anchor="start" fill="#1a1a1a" font-weight="bold" textLength="7.6" lengthAdjust="spacingAndGlyphs" >10</text>
<line x1="216.1" y1="81.3" x2="219.9" y2="81.3" stroke="#222" stroke-width="1.1" />
<text x="208" y="83.6" font-size="6.5" text-anchor="start" fill="#1a1a1a" font-weight="bold" textLength="7.6" lengthAdjust="spacingAndGlyphs" >20</text>
<line x1="216.1" y1="60.35" x2="219.9" y2="60.35" stroke="#222" stroke-width="1.1" />
<text x="208" y="62.65" font-size="6.5" text-anchor="start" fill="#1a1a1a" font-weight="bold" textLength="7.6" lengthAdjust="spacingAndGlyphs" >30</text>
<line x1="216.1" y1="39.4" x2="219.9" y2="39.4" stroke="#222" stroke-width="1.1" />
<text x="208" y="41.7" font-size="6.5" text-anchor="start" fill="#1a1a1a" font-weight="bold" textLength="7.6" lengthAdjust="spacingAndGlyphs" >40</text>
<text x="0" y="0" font-size="8.6" text-anchor="middle" fill="#111" font-weight="normal" stroke="#111" stroke-width="0.3" textLength="29.6" lengthAdjust="spacingAndGlyphs" transform="translate(204,80.6) rotate(-90)">CT score</text>
<path d="M228,123.2 V86.12 H242.5 V123.2" fill="#fff" stroke="#333" stroke-width="1.1"/>
<line x1="235.25" y1="86.12" x2="235.25" y2="66.01" stroke="#333" stroke-width="1.1" />
<line x1="233.45" y1="66.01" x2="237.05" y2="66.01" stroke="#333" stroke-width="1.1" />
<path d="M244.3,123.2 V97.43 H259 V123.2" fill="#fff" stroke="#c3c3c3" stroke-width="1.1"/>
<line x1="251.65" y1="97.43" x2="251.65" y2="81.3" stroke="#c3c3c3" stroke-width="1.1" />
<line x1="249.85" y1="81.3" x2="253.45" y2="81.3" stroke="#c3c3c3" stroke-width="1.1" />
<path d="M267.3,123.2 V90.31 H281.4 V123.2" fill="#fff" stroke="#c00000" stroke-width="1.1"/>
<line x1="274.35" y1="90.31" x2="274.35" y2="75.64" stroke="#c00000" stroke-width="1.1" />
<line x1="272.55" y1="75.64" x2="276.15" y2="75.64" stroke="#c00000" stroke-width="1.1" />
<path d="M284.2,123.2 V102.46 H298.8 V123.2" fill="#fff" stroke="#c00000" stroke-width="1.1"/>
<line x1="291.5" y1="102.46" x2="291.5" y2="90.94" stroke="#c00000" stroke-width="1.1" />
<line x1="289.7" y1="90.94" x2="293.3" y2="90.94" stroke="#c00000" stroke-width="1.1" />
<path d="M306.4,123.2 V83.19 H321.5 V123.2" fill="#fff" stroke="#333" stroke-width="1.1"/>
<line x1="313.95" y1="83.19" x2="313.95" y2="69.15" stroke="#333" stroke-width="1.1" />
<line x1="312.15" y1="69.15" x2="315.75" y2="69.15" stroke="#333" stroke-width="1.1" />
<path d="M323.9,123.2 V98.27 H338.1 V123.2" fill="#fff" stroke="#333" stroke-width="1.1"/>
<line x1="331" y1="98.27" x2="331" y2="86.75" stroke="#333" stroke-width="1.1" />
<line x1="329.2" y1="86.75" x2="332.8" y2="86.75" stroke="#333" stroke-width="1.1" />
<circle cx="235" cy="60.4" r="1.3" fill="#111"/>
<circle cx="235" cy="66.5" r="1.3" fill="#111"/>
<circle cx="235" cy="71" r="1.3" fill="#111"/>
<circle cx="231.3" cy="77.2" r="1.3" fill="#111"/>
<circle cx="239" cy="75.2" r="1.3" fill="#111"/>
<circle cx="231.1" cy="100.2" r="1.3" fill="#111"/>
<circle cx="239" cy="102.3" r="1.3" fill="#111"/>
<circle cx="231.1" cy="108.6" r="1.3" fill="#111"/>
<circle cx="239" cy="110.7" r="1.3" fill="#111"/>
<circle cx="251.6" cy="60.5" r="1.3" fill="#9a9a9a"/>
<circle cx="251.6" cy="87.6" r="1.3" fill="#9a9a9a"/>
<circle cx="251.7" cy="97.5" r="1.3" fill="#9a9a9a"/>
<circle cx="246.8" cy="102.3" r="1.3" fill="#9a9a9a"/>
<circle cx="251.7" cy="104.2" r="1.3" fill="#9a9a9a"/>
<circle cx="256.9" cy="102.3" r="1.3" fill="#9a9a9a"/>
<circle cx="246.8" cy="110.3" r="1.3" fill="#9a9a9a"/>
<circle cx="251.7" cy="112.4" r="1.3" fill="#9a9a9a"/>
<circle cx="256.9" cy="112.4" r="1.3" fill="#9a9a9a"/>
<circle cx="272.4" cy="64.4" r="1.3" fill="#c00000"/>
<circle cx="276.3" cy="66.6" r="1.3" fill="#c00000"/>
<circle cx="267.9" cy="90.8" r="1.3" fill="#c00000"/>
<circle cx="271" cy="90.8" r="1.3" fill="#c00000"/>
<circle cx="274.3" cy="90.8" r="1.3" fill="#c00000"/>
<circle cx="277.5" cy="90.8" r="1.3" fill="#c00000"/>
<circle cx="280.7" cy="89.8" r="1.3" fill="#c00000"/>
<circle cx="274.3" cy="98.4" r="1.3" fill="#c00000"/>
<circle cx="272.3" cy="106.3" r="1.3" fill="#c00000"/>
<circle cx="276.5" cy="108.2" r="1.3" fill="#c00000"/>
<circle cx="291.1" cy="75.1" r="1.3" fill="#c00000"/>
<circle cx="285.4" cy="102" r="1.3" fill="#c00000"/>
<circle cx="288.6" cy="102" r="1.3" fill="#c00000"/>
<circle cx="291.7" cy="101" r="1.3" fill="#c00000"/>
<circle cx="294.9" cy="101.8" r="1.3" fill="#c00000"/>
<circle cx="297.6" cy="102" r="1.3" fill="#c00000"/>
<circle cx="289.2" cy="106.3" r="1.3" fill="#c00000"/>
<circle cx="293.3" cy="108.2" r="1.3" fill="#c00000"/>
<circle cx="289.2" cy="112.6" r="1.3" fill="#c00000"/>
<circle cx="293.3" cy="112.6" r="1.3" fill="#c00000"/>
<circle cx="313.8" cy="56.2" r="1.3" fill="#111"/>
<circle cx="311.3" cy="74.8" r="1.3" fill="#111"/>
<circle cx="316.7" cy="77" r="1.3" fill="#111"/>
<circle cx="313.8" cy="78.6" r="1.3" fill="#111"/>
<circle cx="318.9" cy="78.6" r="1.3" fill="#111"/>
<circle cx="308.8" cy="81.8" r="1.3" fill="#111"/>
<circle cx="314.6" cy="87.4" r="1.3" fill="#111"/>
<circle cx="311.6" cy="89.5" r="1.3" fill="#111"/>
<circle cx="316.3" cy="91.8" r="1.3" fill="#111"/>
<circle cx="314" cy="108.3" r="1.3" fill="#111"/>
<circle cx="330.2" cy="81.3" r="1.3" fill="#111"/>
<circle cx="326.7" cy="85.3" r="1.3" fill="#111"/>
<circle cx="334.6" cy="87.4" r="1.3" fill="#111"/>
<circle cx="330.8" cy="96.1" r="1.3" fill="#111"/>
<circle cx="330.8" cy="100" r="1.3" fill="#111"/>
<circle cx="330.8" cy="104" r="1.3" fill="#111"/>
<circle cx="326.7" cy="108.3" r="1.3" fill="#111"/>
<circle cx="334.6" cy="108.3" r="1.3" fill="#111"/>
<circle cx="330.8" cy="112.3" r="1.3" fill="#111"/>
<line x1="216.4" y1="123.2" x2="346.6" y2="123.2" stroke="#333" stroke-width="1.3" />
<line x1="274" y1="57.5" x2="290.5" y2="57.5" stroke="#222" stroke-width="1.1" />
<text x="282.3" y="57" font-size="8.2" text-anchor="middle" fill="#111" font-weight="bold" >*</text>
<line x1="314.2" y1="52.3" x2="331.2" y2="52.3" stroke="#222" stroke-width="1.1" />
<text x="322.9" y="52" font-size="8.2" text-anchor="middle" fill="#111" font-weight="bold" >*</text>
<text x="229.4" y="131.2" font-size="7.6" text-anchor="start" fill="#222" font-weight="normal" stroke="#222" stroke-width="0.3" textLength="10.6" lengthAdjust="spacingAndGlyphs" >Incl</text>
<text x="246.1" y="131.2" font-size="7.6" text-anchor="start" fill="#222" font-weight="normal" stroke="#222" stroke-width="0.3" textLength="10.7" lengthAdjust="spacingAndGlyphs" >Dsc</text>
<text x="269" y="131.2" font-size="7.6" text-anchor="start" fill="#222" font-weight="normal" stroke="#222" stroke-width="0.3" textLength="10.3" lengthAdjust="spacingAndGlyphs" >Incl</text>
<text x="285.9" y="131.2" font-size="7.6" text-anchor="start" fill="#222" font-weight="normal" stroke="#222" stroke-width="0.3" textLength="10.4" lengthAdjust="spacingAndGlyphs" >Dsc</text>
<text x="308.8" y="131.2" font-size="7.6" text-anchor="start" fill="#222" font-weight="normal" stroke="#222" stroke-width="0.3" textLength="10.4" lengthAdjust="spacingAndGlyphs" >Incl</text>
<text x="325.8" y="131.2" font-size="7.6" text-anchor="start" fill="#222" font-weight="normal" stroke="#222" stroke-width="0.3" textLength="10.3" lengthAdjust="spacingAndGlyphs" >Dsc</text>
<line x1="227.9" y1="134.1" x2="259.8" y2="134.1" stroke="#666" stroke-width="1.1" />
<text x="238.9" y="142.7" font-size="8.0" text-anchor="start" fill="#1a1a1a" font-weight="normal" stroke="#1a1a1a" stroke-width="0.3" textLength="7.2" lengthAdjust="spacingAndGlyphs" >SC</text>
<line x1="268.5" y1="134.1" x2="299.8" y2="134.1" stroke="#666" stroke-width="1.1" />
<text x="269.8" y="142.7" font-size="8.0" text-anchor="start" fill="#1a1a1a" font-weight="normal" stroke="#1a1a1a" stroke-width="0.3" textLength="26.2" lengthAdjust="spacingAndGlyphs" >Icatibant</text>
<line x1="307.8" y1="134.1" x2="339.9" y2="134.1" stroke="#666" stroke-width="1.1" />
<text x="312" y="142.7" font-size="8.0" text-anchor="start" fill="#1a1a1a" font-weight="normal" stroke="#1a1a1a" stroke-width="0.3" textLength="20" lengthAdjust="spacingAndGlyphs" >iC1e/K</text>
<text x="388.1" y="16.2" font-size="15" text-anchor="start" fill="#111" font-weight="normal" stroke="#111" stroke-width="0.3" textLength="9.4" lengthAdjust="spacingAndGlyphs" >C</text>
<line x1="406.4" y1="57.66" x2="406.4" y2="53.96" stroke="#c4c4c4" stroke-width="0.6" stroke-dasharray="0.9 0.7"/>
<line x1="405.6" y1="53.96" x2="407.2" y2="53.96" stroke="#c4c4c4" stroke-width="0.6" />
<line x1="411.01" y1="53.22" x2="411.01" y2="50.26" stroke="#c4c4c4" stroke-width="0.6" stroke-dasharray="0.9 0.7"/>
<line x1="410.21" y1="50.26" x2="411.81" y2="50.26" stroke="#c4c4c4" stroke-width="0.6" />
<line x1="415.62" y1="54.7" x2="415.62" y2="48.78" stroke="#c4c4c4" stroke-width="0.6" stroke-dasharray="0.9 0.7"/>
<line x1="414.82" y1="48.78" x2="416.42" y2="48.78" stroke="#c4c4c4" stroke-width="0.6" />
<line x1="420.23" y1="55.59" x2="420.23" y2="50.26" stroke="#c4c4c4" stroke-width="0.6" stroke-dasharray="0.9 0.7"/>
<line x1="419.43" y1="50.26" x2="421.03" y2="50.26" stroke="#c4c4c4" stroke-width="0.6" />
<line x1="424.84" y1="59.14" x2="424.84" y2="53.22" stroke="#c4c4c4" stroke-width="0.6" stroke-dasharray="0.9 0.7"/>
<line x1="424.04" y1="53.22" x2="425.64" y2="53.22" stroke="#c4c4c4" stroke-width="0.6" />
<line x1="429.45" y1="60.62" x2="429.45" y2="54.7" stroke="#c4c4c4" stroke-width="0.6" stroke-dasharray="0.9 0.7"/>
<line x1="428.65" y1="54.7" x2="430.25" y2="54.7" stroke="#c4c4c4" stroke-width="0.6" />
<line x1="434.06" y1="72.46" x2="434.06" y2="63.58" stroke="#c4c4c4" stroke-width="0.6" stroke-dasharray="0.9 0.7"/>
<line x1="433.26" y1="63.58" x2="434.86" y2="63.58" stroke="#c4c4c4" stroke-width="0.6" />
<line x1="438.67" y1="78.82" x2="438.67" y2="69.5" stroke="#c4c4c4" stroke-width="0.6" stroke-dasharray="0.9 0.7"/>
<line x1="437.87" y1="69.5" x2="439.47" y2="69.5" stroke="#c4c4c4" stroke-width="0.6" />
<line x1="443.28" y1="82.23" x2="443.28" y2="72.46" stroke="#c4c4c4" stroke-width="0.6" stroke-dasharray="0.9 0.7"/>
<line x1="442.48" y1="72.46" x2="444.08" y2="72.46" stroke="#c4c4c4" stroke-width="0.6" />
<line x1="447.89" y1="84.3" x2="447.89" y2="73.94" stroke="#c4c4c4" stroke-width="0.6" stroke-dasharray="0.9 0.7"/>
<line x1="447.09" y1="73.94" x2="448.69" y2="73.94" stroke="#c4c4c4" stroke-width="0.6" />
<line x1="452.5" y1="85.04" x2="452.5" y2="75.42" stroke="#c4c4c4" stroke-width="0.6" stroke-dasharray="0.9 0.7"/>
<line x1="451.7" y1="75.42" x2="453.3" y2="75.42" stroke="#c4c4c4" stroke-width="0.6" />
<line x1="457.11" y1="89.18" x2="457.11" y2="78.38" stroke="#c4c4c4" stroke-width="0.6" stroke-dasharray="0.9 0.7"/>
<line x1="456.31" y1="78.38" x2="457.91" y2="78.38" stroke="#c4c4c4" stroke-width="0.6" />
<line x1="461.72" y1="87.26" x2="461.72" y2="76.9" stroke="#c4c4c4" stroke-width="0.6" stroke-dasharray="0.9 0.7"/>
<line x1="460.92" y1="76.9" x2="462.52" y2="76.9" stroke="#c4c4c4" stroke-width="0.6" />
<line x1="466.33" y1="91.7" x2="466.33" y2="81.34" stroke="#c4c4c4" stroke-width="0.6" stroke-dasharray="0.9 0.7"/>
<line x1="465.53" y1="81.34" x2="467.13" y2="81.34" stroke="#c4c4c4" stroke-width="0.6" />
<line x1="470.94" y1="93.62" x2="470.94" y2="87.26" stroke="#c4c4c4" stroke-width="0.6" stroke-dasharray="0.9 0.7"/>
<line x1="470.14" y1="87.26" x2="471.74" y2="87.26" stroke="#c4c4c4" stroke-width="0.6" />
<line x1="475.55" y1="99.1" x2="475.55" y2="88.74" stroke="#c4c4c4" stroke-width="0.6" stroke-dasharray="0.9 0.7"/>
<line x1="474.75" y1="88.74" x2="476.35" y2="88.74" stroke="#c4c4c4" stroke-width="0.6" />
<line x1="480.16" y1="99.1" x2="480.16" y2="88.74" stroke="#c4c4c4" stroke-width="0.6" stroke-dasharray="0.9 0.7"/>
<line x1="479.36" y1="88.74" x2="480.96" y2="88.74" stroke="#c4c4c4" stroke-width="0.6" />
<line x1="484.77" y1="98.06" x2="484.77" y2="87.26" stroke="#c4c4c4" stroke-width="0.6" stroke-dasharray="0.9 0.7"/>
<line x1="483.97" y1="87.26" x2="485.57" y2="87.26" stroke="#c4c4c4" stroke-width="0.6" />
<line x1="489.38" y1="97.62" x2="489.38" y2="87.26" stroke="#c4c4c4" stroke-width="0.6" stroke-dasharray="0.9 0.7"/>
<line x1="488.58" y1="87.26" x2="490.18" y2="87.26" stroke="#c4c4c4" stroke-width="0.6" />
<line x1="493.99" y1="97.62" x2="493.99" y2="87.26" stroke="#c4c4c4" stroke-width="0.6" stroke-dasharray="0.9 0.7"/>
<line x1="493.19" y1="87.26" x2="494.79" y2="87.26" stroke="#c4c4c4" stroke-width="0.6" />
<line x1="498.6" y1="97.62" x2="498.6" y2="87.26" stroke="#c4c4c4" stroke-width="0.6" stroke-dasharray="0.9 0.7"/>
<line x1="497.8" y1="87.26" x2="499.4" y2="87.26" stroke="#c4c4c4" stroke-width="0.6" />
<line x1="503.21" y1="97.62" x2="503.21" y2="88.74" stroke="#c4c4c4" stroke-width="0.6" stroke-dasharray="0.9 0.7"/>
<line x1="502.41" y1="88.74" x2="504.01" y2="88.74" stroke="#c4c4c4" stroke-width="0.6" />
<line x1="507.82" y1="97.62" x2="507.82" y2="88.74" stroke="#c4c4c4" stroke-width="0.6" stroke-dasharray="0.9 0.7"/>
<line x1="507.02" y1="88.74" x2="508.62" y2="88.74" stroke="#c4c4c4" stroke-width="0.6" />
<line x1="512.43" y1="97.62" x2="512.43" y2="88.74" stroke="#c4c4c4" stroke-width="0.6" stroke-dasharray="0.9 0.7"/>
<line x1="511.63" y1="88.74" x2="513.23" y2="88.74" stroke="#c4c4c4" stroke-width="0.6" />
<line x1="517.04" y1="97.62" x2="517.04" y2="90.22" stroke="#c4c4c4" stroke-width="0.6" stroke-dasharray="0.9 0.7"/>
<line x1="516.24" y1="90.22" x2="517.84" y2="90.22" stroke="#c4c4c4" stroke-width="0.6" />
<line x1="521.65" y1="97.62" x2="521.65" y2="91.7" stroke="#c4c4c4" stroke-width="0.6" stroke-dasharray="0.9 0.7"/>
<line x1="520.85" y1="91.7" x2="522.45" y2="91.7" stroke="#c4c4c4" stroke-width="0.6" />
<line x1="526.26" y1="97.62" x2="526.26" y2="91.7" stroke="#c4c4c4" stroke-width="0.6" stroke-dasharray="0.9 0.7"/>
<line x1="525.46" y1="91.7" x2="527.06" y2="91.7" stroke="#c4c4c4" stroke-width="0.6" />
<line x1="530.87" y1="97.62" x2="530.87" y2="91.7" stroke="#c4c4c4" stroke-width="0.6" stroke-dasharray="0.9 0.7"/>
<line x1="530.07" y1="91.7" x2="531.67" y2="91.7" stroke="#c4c4c4" stroke-width="0.6" />
<line x1="535.48" y1="97.62" x2="535.48" y2="91.7" stroke="#c4c4c4" stroke-width="0.6" stroke-dasharray="0.9 0.7"/>
<line x1="534.68" y1="91.7" x2="536.28" y2="91.7" stroke="#c4c4c4" stroke-width="0.6" />
<polyline points="406.4,57.66 411.01,53.22 415.62,54.7 420.23,55.59 424.84,59.14 429.45,60.62 434.06,72.46 438.67,78.82 443.28,82.23 447.89,84.3 452.5,85.04 457.11,89.18 461.72,87.26 466.33,91.7 470.94,93.62 475.55,99.1 480.16,99.1 484.77,98.06 489.38,97.62 493.99,97.62 498.6,97.62 503.21,97.62 507.82,97.62 512.43,97.62 517.04,97.62 521.65,97.62 526.26,97.62 530.87,97.62 535.48,97.62" fill="none" stroke="#a0a0a0" stroke-width="0.75" stroke-linejoin="round"/>
<rect x="405.65" y="56.91" width="1.5" height="1.5" fill="#888"/>
<rect x="410.26" y="52.47" width="1.5" height="1.5" fill="#888"/>
<rect x="414.87" y="53.95" width="1.5" height="1.5" fill="#888"/>
<rect x="419.48" y="54.84" width="1.5" height="1.5" fill="#888"/>
<rect x="424.09" y="58.39" width="1.5" height="1.5" fill="#888"/>
<rect x="428.7" y="59.87" width="1.5" height="1.5" fill="#888"/>
<rect x="433.31" y="71.71" width="1.5" height="1.5" fill="#888"/>
<rect x="437.92" y="78.07" width="1.5" height="1.5" fill="#888"/>
<rect x="442.53" y="81.48" width="1.5" height="1.5" fill="#888"/>
<rect x="447.14" y="83.55" width="1.5" height="1.5" fill="#888"/>
<rect x="451.75" y="84.29" width="1.5" height="1.5" fill="#888"/>
<rect x="456.36" y="88.43" width="1.5" height="1.5" fill="#888"/>
<rect x="460.97" y="86.51" width="1.5" height="1.5" fill="#888"/>
<rect x="465.58" y="90.95" width="1.5" height="1.5" fill="#888"/>
<rect x="470.19" y="92.87" width="1.5" height="1.5" fill="#888"/>
<rect x="474.8" y="98.35" width="1.5" height="1.5" fill="#888"/>
<rect x="479.41" y="98.35" width="1.5" height="1.5" fill="#888"/>
<rect x="484.02" y="97.31" width="1.5" height="1.5" fill="#888"/>
<rect x="488.63" y="96.87" width="1.5" height="1.5" fill="#888"/>
<rect x="493.24" y="96.87" width="1.5" height="1.5" fill="#888"/>
<rect x="497.85" y="96.87" width="1.5" height="1.5" fill="#888"/>
<rect x="502.46" y="96.87" width="1.5" height="1.5" fill="#888"/>
<rect x="507.07" y="96.87" width="1.5" height="1.5" fill="#888"/>
<rect x="511.68" y="96.87" width="1.5" height="1.5" fill="#888"/>
<rect x="516.29" y="96.87" width="1.5" height="1.5" fill="#888"/>
<rect x="520.9" y="96.87" width="1.5" height="1.5" fill="#888"/>
<rect x="525.51" y="96.87" width="1.5" height="1.5" fill="#888"/>
<rect x="530.12" y="96.87" width="1.5" height="1.5" fill="#888"/>
<rect x="534.73" y="96.87" width="1.5" height="1.5" fill="#888"/>
<line x1="406.4" y1="56.18" x2="406.4" y2="51.74" stroke="#333" stroke-width="0.65" />
<line x1="405.6" y1="51.74" x2="407.2" y2="51.74" stroke="#333" stroke-width="0.65" />
<line x1="411.01" y1="51.74" x2="411.01" y2="47" stroke="#333" stroke-width="0.65" />
<line x1="410.21" y1="47" x2="411.81" y2="47" stroke="#333" stroke-width="0.65" />
<line x1="415.62" y1="47.3" x2="415.62" y2="42.86" stroke="#333" stroke-width="0.65" />
<line x1="414.82" y1="42.86" x2="416.42" y2="42.86" stroke="#333" stroke-width="0.65" />
<line x1="420.23" y1="51.74" x2="420.23" y2="45.82" stroke="#333" stroke-width="0.65" />
<line x1="419.43" y1="45.82" x2="421.03" y2="45.82" stroke="#333" stroke-width="0.65" />
<line x1="424.84" y1="51.74" x2="424.84" y2="45.82" stroke="#333" stroke-width="0.65" />
<line x1="424.04" y1="45.82" x2="425.64" y2="45.82" stroke="#333" stroke-width="0.65" />
<line x1="429.45" y1="56.18" x2="429.45" y2="48.34" stroke="#333" stroke-width="0.65" />
<line x1="428.65" y1="48.34" x2="430.25" y2="48.34" stroke="#333" stroke-width="0.65" />
<line x1="434.06" y1="64.32" x2="434.06" y2="57.66" stroke="#333" stroke-width="0.65" />
<line x1="433.26" y1="57.66" x2="434.86" y2="57.66" stroke="#333" stroke-width="0.65" />
<line x1="438.67" y1="68.02" x2="438.67" y2="57.36" stroke="#333" stroke-width="0.65" />
<line x1="437.87" y1="57.36" x2="439.47" y2="57.36" stroke="#333" stroke-width="0.65" />
<line x1="443.28" y1="69.5" x2="443.28" y2="57.36" stroke="#333" stroke-width="0.65" />
<line x1="442.48" y1="57.36" x2="444.08" y2="57.36" stroke="#333" stroke-width="0.65" />
<line x1="447.89" y1="69.5" x2="447.89" y2="57.36" stroke="#333" stroke-width="0.65" />
<line x1="447.09" y1="57.36" x2="448.69" y2="57.36" stroke="#333" stroke-width="0.65" />
<line x1="452.5" y1="72.46" x2="452.5" y2="61.06" stroke="#333" stroke-width="0.65" />
<line x1="451.7" y1="61.06" x2="453.3" y2="61.06" stroke="#333" stroke-width="0.65" />
<line x1="457.11" y1="72.46" x2="457.11" y2="61.06" stroke="#333" stroke-width="0.65" />
<line x1="456.31" y1="61.06" x2="457.91" y2="61.06" stroke="#333" stroke-width="0.65" />
<line x1="461.72" y1="72.46" x2="461.72" y2="61.06" stroke="#333" stroke-width="0.65" />
<line x1="460.92" y1="61.06" x2="462.52" y2="61.06" stroke="#333" stroke-width="0.65" />
<line x1="466.33" y1="73.94" x2="466.33" y2="62.1" stroke="#333" stroke-width="0.65" />
<line x1="465.53" y1="62.1" x2="467.13" y2="62.1" stroke="#333" stroke-width="0.65" />
<line x1="470.94" y1="81.34" x2="470.94" y2="70.83" stroke="#333" stroke-width="0.65" />
<line x1="470.14" y1="70.83" x2="471.74" y2="70.83" stroke="#333" stroke-width="0.65" />
<line x1="475.55" y1="82.82" x2="475.55" y2="72.61" stroke="#333" stroke-width="0.65" />
<line x1="474.75" y1="72.61" x2="476.35" y2="72.61" stroke="#333" stroke-width="0.65" />
<line x1="480.16" y1="82.82" x2="480.16" y2="72.61" stroke="#333" stroke-width="0.65" />
<line x1="479.36" y1="72.61" x2="480.96" y2="72.61" stroke="#333" stroke-width="0.65" />
<line x1="484.77" y1="79.86" x2="484.77" y2="68.76" stroke="#333" stroke-width="0.65" />
<line x1="483.97" y1="68.76" x2="485.57" y2="68.76" stroke="#333" stroke-width="0.65" />
<line x1="489.38" y1="79.86" x2="489.38" y2="68.76" stroke="#333" stroke-width="0.65" />
<line x1="488.58" y1="68.76" x2="490.18" y2="68.76" stroke="#333" stroke-width="0.65" />
<line x1="493.99" y1="79.86" x2="493.99" y2="68.76" stroke="#333" stroke-width="0.65" />
<line x1="493.19" y1="68.76" x2="494.79" y2="68.76" stroke="#333" stroke-width="0.65" />
<line x1="498.6" y1="79.86" x2="498.6" y2="68.76" stroke="#333" stroke-width="0.65" />
<line x1="497.8" y1="68.76" x2="499.4" y2="68.76" stroke="#333" stroke-width="0.65" />
<line x1="503.21" y1="84.3" x2="503.21" y2="74.68" stroke="#333" stroke-width="0.65" />
<line x1="502.41" y1="74.68" x2="504.01" y2="74.68" stroke="#333" stroke-width="0.65" />
<line x1="507.82" y1="87.26" x2="507.82" y2="75.12" stroke="#333" stroke-width="0.65" />
<line x1="507.02" y1="75.12" x2="508.62" y2="75.12" stroke="#333" stroke-width="0.65" />
<line x1="512.43" y1="87.26" x2="512.43" y2="75.12" stroke="#333" stroke-width="0.65" />
<line x1="511.63" y1="75.12" x2="513.23" y2="75.12" stroke="#333" stroke-width="0.65" />
<line x1="517.04" y1="90.22" x2="517.04" y2="80.6" stroke="#333" stroke-width="0.65" />
<line x1="516.24" y1="80.6" x2="517.84" y2="80.6" stroke="#333" stroke-width="0.65" />
<line x1="521.65" y1="90.22" x2="521.65" y2="80.6" stroke="#333" stroke-width="0.65" />
<line x1="520.85" y1="80.6" x2="522.45" y2="80.6" stroke="#333" stroke-width="0.65" />
<line x1="526.26" y1="90.22" x2="526.26" y2="80.6" stroke="#333" stroke-width="0.65" />
<line x1="525.46" y1="80.6" x2="527.06" y2="80.6" stroke="#333" stroke-width="0.65" />
<line x1="530.87" y1="90.22" x2="530.87" y2="80.6" stroke="#333" stroke-width="0.65" />
<line x1="530.07" y1="80.6" x2="531.67" y2="80.6" stroke="#333" stroke-width="0.65" />
<line x1="535.48" y1="90.22" x2="535.48" y2="80.6" stroke="#333" stroke-width="0.65" />
<line x1="534.68" y1="80.6" x2="536.28" y2="80.6" stroke="#333" stroke-width="0.65" />
<polyline points="406.4,56.18 411.01,51.74 415.62,47.3 420.23,51.74 424.84,51.74 429.45,56.18 434.06,64.32 438.67,68.02 443.28,69.5 447.89,69.5 452.5,72.46 457.11,72.46 461.72,72.46 466.33,73.94 470.94,81.34 475.55,82.82 480.16,82.82 484.77,79.86 489.38,79.86 493.99,79.86 498.6,79.86 503.21,84.3 507.82,87.26 512.43,87.26 517.04,90.22 521.65,90.22 526.26,90.22 530.87,90.22 535.48,90.22" fill="none" stroke="#333" stroke-width="0.95" stroke-linejoin="round"/>
<rect x="405.6" y="55.38" width="1.6" height="1.6" fill="#333"/>
<rect x="410.21" y="50.94" width="1.6" height="1.6" fill="#333"/>
<rect x="414.82" y="46.5" width="1.6" height="1.6" fill="#333"/>
<rect x="419.43" y="50.94" width="1.6" height="1.6" fill="#333"/>
<rect x="424.04" y="50.94" width="1.6" height="1.6" fill="#333"/>
<rect x="428.65" y="55.38" width="1.6" height="1.6" fill="#333"/>
<rect x="433.26" y="63.52" width="1.6" height="1.6" fill="#333"/>
<rect x="437.87" y="67.22" width="1.6" height="1.6" fill="#333"/>
<rect x="442.48" y="68.7" width="1.6" height="1.6" fill="#333"/>
<rect x="447.09" y="68.7" width="1.6" height="1.6" fill="#333"/>
<rect x="451.7" y="71.66" width="1.6" height="1.6" fill="#333"/>
<rect x="456.31" y="71.66" width="1.6" height="1.6" fill="#333"/>
<rect x="460.92" y="71.66" width="1.6" height="1.6" fill="#333"/>
<rect x="465.53" y="73.14" width="1.6" height="1.6" fill="#333"/>
<rect x="470.14" y="80.54" width="1.6" height="1.6" fill="#333"/>
<rect x="474.75" y="82.02" width="1.6" height="1.6" fill="#333"/>
<rect x="479.36" y="82.02" width="1.6" height="1.6" fill="#333"/>
<rect x="483.97" y="79.06" width="1.6" height="1.6" fill="#333"/>
<rect x="488.58" y="79.06" width="1.6" height="1.6" fill="#333"/>
<rect x="493.19" y="79.06" width="1.6" height="1.6" fill="#333"/>
<rect x="497.8" y="79.06" width="1.6" height="1.6" fill="#333"/>
<rect x="502.41" y="83.5" width="1.6" height="1.6" fill="#333"/>
<rect x="507.02" y="86.46" width="1.6" height="1.6" fill="#333"/>
<rect x="511.63" y="86.46" width="1.6" height="1.6" fill="#333"/>
<rect x="516.24" y="89.42" width="1.6" height="1.6" fill="#333"/>
<rect x="520.85" y="89.42" width="1.6" height="1.6" fill="#333"/>
<rect x="525.46" y="89.42" width="1.6" height="1.6" fill="#333"/>
<rect x="530.07" y="89.42" width="1.6" height="1.6" fill="#333"/>
<rect x="534.68" y="89.42" width="1.6" height="1.6" fill="#333"/>
<line x1="434.06" y1="76.16" x2="434.06" y2="65.06" stroke="#f36a6e" stroke-width="0.6" />
<line x1="433.26" y1="65.06" x2="434.86" y2="65.06" stroke="#f36a6e" stroke-width="0.6" />
<line x1="438.67" y1="79.86" x2="438.67" y2="68.02" stroke="#f36a6e" stroke-width="0.6" />
<line x1="437.87" y1="68.02" x2="439.47" y2="68.02" stroke="#f36a6e" stroke-width="0.6" />
<line x1="443.28" y1="82.82" x2="443.28" y2="70.98" stroke="#f36a6e" stroke-width="0.6" />
<line x1="442.48" y1="70.98" x2="444.08" y2="70.98" stroke="#f36a6e" stroke-width="0.6" />
<line x1="447.89" y1="82.82" x2="447.89" y2="70.98" stroke="#f36a6e" stroke-width="0.6" />
<line x1="447.09" y1="70.98" x2="448.69" y2="70.98" stroke="#f36a6e" stroke-width="0.6" />
<line x1="452.5" y1="82.82" x2="452.5" y2="72.46" stroke="#f36a6e" stroke-width="0.6" />
<line x1="451.7" y1="72.46" x2="453.3" y2="72.46" stroke="#f36a6e" stroke-width="0.6" />
<line x1="457.11" y1="83.12" x2="457.11" y2="72.46" stroke="#f36a6e" stroke-width="0.6" />
<line x1="456.31" y1="72.46" x2="457.91" y2="72.46" stroke="#f36a6e" stroke-width="0.6" />
<line x1="461.72" y1="84.6" x2="461.72" y2="73.94" stroke="#f36a6e" stroke-width="0.6" />
<line x1="460.92" y1="73.94" x2="462.52" y2="73.94" stroke="#f36a6e" stroke-width="0.6" />
<line x1="466.33" y1="85.93" x2="466.33" y2="76.9" stroke="#f36a6e" stroke-width="0.6" />
<line x1="465.53" y1="76.9" x2="467.13" y2="76.9" stroke="#f36a6e" stroke-width="0.6" />
<line x1="470.94" y1="89.04" x2="470.94" y2="80.6" stroke="#f36a6e" stroke-width="0.6" />
<line x1="470.14" y1="80.6" x2="471.74" y2="80.6" stroke="#f36a6e" stroke-width="0.6" />
<line x1="475.55" y1="89.04" x2="475.55" y2="80.6" stroke="#f36a6e" stroke-width="0.6" />
<line x1="474.75" y1="80.6" x2="476.35" y2="80.6" stroke="#f36a6e" stroke-width="0.6" />
<line x1="480.16" y1="89.04" x2="480.16" y2="80.6" stroke="#f36a6e" stroke-width="0.6" />
<line x1="479.36" y1="80.6" x2="480.96" y2="80.6" stroke="#f36a6e" stroke-width="0.6" />
<line x1="484.77" y1="89.04" x2="484.77" y2="80.6" stroke="#f36a6e" stroke-width="0.6" />
<line x1="483.97" y1="80.6" x2="485.57" y2="80.6" stroke="#f36a6e" stroke-width="0.6" />
<line x1="489.38" y1="89.04" x2="489.38" y2="80.6" stroke="#f36a6e" stroke-width="0.6" />
<line x1="488.58" y1="80.6" x2="490.18" y2="80.6" stroke="#f36a6e" stroke-width="0.6" />
<line x1="493.99" y1="94.66" x2="493.99" y2="86.96" stroke="#f36a6e" stroke-width="0.6" />
<line x1="493.19" y1="86.96" x2="494.79" y2="86.96" stroke="#f36a6e" stroke-width="0.6" />
<line x1="498.6" y1="94.66" x2="498.6" y2="86.96" stroke="#f36a6e" stroke-width="0.6" />
<line x1="497.8" y1="86.96" x2="499.4" y2="86.96" stroke="#f36a6e" stroke-width="0.6" />
<line x1="503.21" y1="94.66" x2="503.21" y2="86.96" stroke="#f36a6e" stroke-width="0.6" />
<line x1="502.41" y1="86.96" x2="504.01" y2="86.96" stroke="#f36a6e" stroke-width="0.6" />
<line x1="507.82" y1="94.66" x2="507.82" y2="86.96" stroke="#f36a6e" stroke-width="0.6" />
<line x1="507.02" y1="86.96" x2="508.62" y2="86.96" stroke="#f36a6e" stroke-width="0.6" />
<line x1="512.43" y1="94.66" x2="512.43" y2="86.96" stroke="#f36a6e" stroke-width="0.6" />
<line x1="511.63" y1="86.96" x2="513.23" y2="86.96" stroke="#f36a6e" stroke-width="0.6" />
<line x1="517.04" y1="94.66" x2="517.04" y2="86.96" stroke="#f36a6e" stroke-width="0.6" />
<line x1="516.24" y1="86.96" x2="517.84" y2="86.96" stroke="#f36a6e" stroke-width="0.6" />
<line x1="521.65" y1="94.66" x2="521.65" y2="86.96" stroke="#f36a6e" stroke-width="0.6" />
<line x1="520.85" y1="86.96" x2="522.45" y2="86.96" stroke="#f36a6e" stroke-width="0.6" />
<line x1="526.26" y1="99.1" x2="526.26" y2="90.96" stroke="#f36a6e" stroke-width="0.6" />
<line x1="525.46" y1="90.96" x2="527.06" y2="90.96" stroke="#f36a6e" stroke-width="0.6" />
<line x1="530.87" y1="99.1" x2="530.87" y2="90.96" stroke="#f36a6e" stroke-width="0.6" />
<line x1="530.07" y1="90.96" x2="531.67" y2="90.96" stroke="#f36a6e" stroke-width="0.6" />
<line x1="535.48" y1="99.1" x2="535.48" y2="90.96" stroke="#f36a6e" stroke-width="0.6" />
<line x1="534.68" y1="90.96" x2="536.28" y2="90.96" stroke="#f36a6e" stroke-width="0.6" />
<polyline points="406.4,57.66 411.01,54.7 415.62,50.26 420.23,56.18 424.84,60.62 429.45,65.06 434.06,76.16 438.67,79.86 443.28,82.82 447.89,82.82 452.5,82.82 457.11,83.12 461.72,84.6 466.33,85.93 470.94,89.04 475.55,89.04 480.16,89.04 484.77,89.04 489.38,89.04 493.99,94.66 498.6,94.66 503.21,94.66 507.82,94.66 512.43,94.66 517.04,94.66 521.65,94.66 526.26,99.1 530.87,99.1 535.48,99.1" fill="none" stroke="#f01c24" stroke-width="1.0" stroke-linejoin="round"/>
<circle cx="406.4" cy="57.66" r="1.1" fill="#f01c24"/>
<circle cx="411.01" cy="54.7" r="1.1" fill="#f01c24"/>
<circle cx="415.62" cy="50.26" r="1.1" fill="#f01c24"/>
<circle cx="420.23" cy="56.18" r="1.1" fill="#f01c24"/>
<circle cx="424.84" cy="60.62" r="1.1" fill="#f01c24"/>
<circle cx="429.45" cy="65.06" r="1.1" fill="#f01c24"/>
<circle cx="434.06" cy="76.16" r="1.1" fill="#f01c24"/>
<circle cx="438.67" cy="79.86" r="1.1" fill="#f01c24"/>
<circle cx="443.28" cy="82.82" r="1.1" fill="#f01c24"/>
<circle cx="447.89" cy="82.82" r="1.1" fill="#f01c24"/>
<circle cx="452.5" cy="82.82" r="1.1" fill="#f01c24"/>
<circle cx="457.11" cy="83.12" r="1.1" fill="#f01c24"/>
<circle cx="461.72" cy="84.6" r="1.1" fill="#f01c24"/>
<circle cx="466.33" cy="85.93" r="1.1" fill="#f01c24"/>
<circle cx="470.94" cy="89.04" r="1.1" fill="#f01c24"/>
<circle cx="475.55" cy="89.04" r="1.1" fill="#f01c24"/>
<circle cx="480.16" cy="89.04" r="1.1" fill="#f01c24"/>
<circle cx="484.77" cy="89.04" r="1.1" fill="#f01c24"/>
<circle cx="489.38" cy="89.04" r="1.1" fill="#f01c24"/>
<circle cx="493.99" cy="94.66" r="1.1" fill="#f01c24"/>
<circle cx="498.6" cy="94.66" r="1.1" fill="#f01c24"/>
<circle cx="503.21" cy="94.66" r="1.1" fill="#f01c24"/>
<circle cx="507.82" cy="94.66" r="1.1" fill="#f01c24"/>
<circle cx="512.43" cy="94.66" r="1.1" fill="#f01c24"/>
<circle cx="517.04" cy="94.66" r="1.1" fill="#f01c24"/>
<circle cx="521.65" cy="94.66" r="1.1" fill="#f01c24"/>
<circle cx="526.26" cy="99.1" r="1.1" fill="#f01c24"/>
<circle cx="530.87" cy="99.1" r="1.1" fill="#f01c24"/>
<circle cx="535.48" cy="99.1" r="1.1" fill="#f01c24"/>
<line x1="401.8" y1="32.1" x2="401.8" y2="121.9" stroke="#4a4a4a" stroke-width="1.7" />
<line x1="398.2" y1="121.3" x2="401.8" y2="121.3" stroke="#333" stroke-width="1.1" />
<text x="397.2" y="123.7" font-size="6.6" text-anchor="end" fill="#444" font-weight="normal" stroke="#444" stroke-width="0.15" >0</text>
<line x1="398.2" y1="91.7" x2="401.8" y2="91.7" stroke="#333" stroke-width="1.1" />
<text x="397.2" y="94.1" font-size="6.6" text-anchor="end" fill="#444" font-weight="normal" stroke="#444" stroke-width="0.15" >2</text>
<line x1="398.2" y1="62.1" x2="401.8" y2="62.1" stroke="#333" stroke-width="1.1" />
<text x="397.2" y="64.5" font-size="6.6" text-anchor="end" fill="#444" font-weight="normal" stroke="#444" stroke-width="0.15" >4</text>
<line x1="398.2" y1="32.5" x2="401.8" y2="32.5" stroke="#333" stroke-width="1.1" />
<text x="397.2" y="34.9" font-size="6.6" text-anchor="end" fill="#444" font-weight="normal" stroke="#444" stroke-width="0.15" >6</text>
<line x1="398.6" y1="121.5" x2="535.9" y2="121.5" stroke="#222" stroke-width="1.05" />
<line x1="406.4" y1="121.5" x2="406.4" y2="124.8" stroke="#333" stroke-width="1.0" />
<text x="406.4" y="130.7" font-size="5.2" text-anchor="middle" fill="#555" font-weight="normal" stroke="#555" stroke-width="0.1" >0</text>
<line x1="415.62" y1="121.5" x2="415.62" y2="124.8" stroke="#333" stroke-width="1.0" />
<text x="415.62" y="130.7" font-size="5.2" text-anchor="middle" fill="#555" font-weight="normal" stroke="#555" stroke-width="0.1" >2</text>
<line x1="424.84" y1="121.5" x2="424.84" y2="124.8" stroke="#333" stroke-width="1.0" />
<text x="424.84" y="130.7" font-size="5.2" text-anchor="middle" fill="#555" font-weight="normal" stroke="#555" stroke-width="0.1" >4</text>
<line x1="434.06" y1="121.5" x2="434.06" y2="124.8" stroke="#333" stroke-width="1.0" />
<text x="434.06" y="130.7" font-size="5.2" text-anchor="middle" fill="#555" font-weight="normal" stroke="#555" stroke-width="0.1" >6</text>
<line x1="443.28" y1="121.5" x2="443.28" y2="124.8" stroke="#333" stroke-width="1.0" />
<text x="443.28" y="130.7" font-size="5.2" text-anchor="middle" fill="#555" font-weight="normal" stroke="#555" stroke-width="0.1" >8</text>
<line x1="452.5" y1="121.5" x2="452.5" y2="124.8" stroke="#333" stroke-width="1.0" />
<text x="452.5" y="130.7" font-size="5.2" text-anchor="middle" fill="#555" font-weight="normal" stroke="#555" stroke-width="0.1" >10</text>
<line x1="461.72" y1="121.5" x2="461.72" y2="124.8" stroke="#333" stroke-width="1.0" />
<text x="461.72" y="130.7" font-size="5.2" text-anchor="middle" fill="#555" font-weight="normal" stroke="#555" stroke-width="0.1" >12</text>
<line x1="470.94" y1="121.5" x2="470.94" y2="124.8" stroke="#333" stroke-width="1.0" />
<text x="470.94" y="130.7" font-size="5.2" text-anchor="middle" fill="#555" font-weight="normal" stroke="#555" stroke-width="0.1" >14</text>
<line x1="480.16" y1="121.5" x2="480.16" y2="124.8" stroke="#333" stroke-width="1.0" />
<text x="480.16" y="130.7" font-size="5.2" text-anchor="middle" fill="#555" font-weight="normal" stroke="#555" stroke-width="0.1" >16</text>
<line x1="489.38" y1="121.5" x2="489.38" y2="124.8" stroke="#333" stroke-width="1.0" />
<text x="489.38" y="130.7" font-size="5.2" text-anchor="middle" fill="#555" font-weight="normal" stroke="#555" stroke-width="0.1" >18</text>
<line x1="498.6" y1="121.5" x2="498.6" y2="124.8" stroke="#333" stroke-width="1.0" />
<text x="498.6" y="130.7" font-size="5.2" text-anchor="middle" fill="#555" font-weight="normal" stroke="#555" stroke-width="0.1" >20</text>
<line x1="507.82" y1="121.5" x2="507.82" y2="124.8" stroke="#333" stroke-width="1.0" />
<text x="507.82" y="130.7" font-size="5.2" text-anchor="middle" fill="#555" font-weight="normal" stroke="#555" stroke-width="0.1" >22</text>
<line x1="517.04" y1="121.5" x2="517.04" y2="124.8" stroke="#333" stroke-width="1.0" />
<text x="517.04" y="130.7" font-size="5.2" text-anchor="middle" fill="#555" font-weight="normal" stroke="#555" stroke-width="0.1" >24</text>
<line x1="526.26" y1="121.5" x2="526.26" y2="124.8" stroke="#333" stroke-width="1.0" />
<text x="526.26" y="130.7" font-size="5.2" text-anchor="middle" fill="#555" font-weight="normal" stroke="#555" stroke-width="0.1" >26</text>
<line x1="535.48" y1="121.5" x2="535.48" y2="124.8" stroke="#333" stroke-width="1.0" />
<text x="535.48" y="130.7" font-size="5.2" text-anchor="middle" fill="#555" font-weight="normal" stroke="#555" stroke-width="0.1" >28</text>
<text x="460.6" y="142.6" font-size="8.2" text-anchor="start" fill="#222" font-weight="normal" stroke="#222" stroke-width="0.25" textLength="16.4" lengthAdjust="spacingAndGlyphs" >Days</text>
<text x="0" y="0" font-size="7.9" text-anchor="middle" fill="#333" font-weight="normal" stroke="#333" stroke-width="0.2" textLength="30.8" lengthAdjust="spacingAndGlyphs" transform="translate(389.7,75) rotate(-90)">TTCI score</text>
<line x1="511.1" y1="45.4" x2="518.4" y2="45.4" stroke="#bdbdbd" stroke-width="0.7" />
<rect x="514.1" y="44.7" width="1.4" height="1.4" fill="#bdbdbd"/>
<text x="520.5" y="47" font-size="5.2" text-anchor="start" fill="#222" font-weight="normal" stroke="#222" stroke-width="0.25" textLength="4.5" lengthAdjust="spacingAndGlyphs" >SC</text>
<line x1="511.1" y1="54.65" x2="518.4" y2="54.65" stroke="#f01c24" stroke-width="0.7" />
<circle cx="514.8" cy="54.65" r="0.95" fill="#f01c24"/>
<text x="520.5" y="56.25" font-size="5.2" text-anchor="start" fill="#222" font-weight="normal" stroke="#222" stroke-width="0.25" textLength="18.5" lengthAdjust="spacingAndGlyphs" >Icatibant</text>
<line x1="511.1" y1="63.9" x2="518.4" y2="63.9" stroke="#262626" stroke-width="0.7" />
<rect x="514.1" y="63.2" width="1.4" height="1.4" fill="#262626"/>
<text x="520.5" y="65.5" font-size="5.2" text-anchor="start" fill="#222" font-weight="normal" stroke="#222" stroke-width="0.25" textLength="14.3" lengthAdjust="spacingAndGlyphs" >iC1e/K</text>
<rect x="381.6" y="25.8" width="52" height="110.7" fill="none" stroke="#1a1a1a" stroke-width="1.55" stroke-dasharray="2.6 1.2"/>
<polyline points="409,137 409,161.9 474.7,161.9 474.7,179" fill="none" stroke="#444" stroke-width="1"/>
<polygon points="471.1,178.3 478.3,178.3 474.7,185.4" fill="#111"/>
<line x1="415.8" y1="249.42" x2="415.8" y2="237.71" stroke="#c8c8c8" stroke-width="0.6" />
<line x1="414.9" y1="237.71" x2="416.7" y2="237.71" stroke="#c8c8c8" stroke-width="0.6" />
<line x1="439.2" y1="235.37" x2="439.2" y2="225.99" stroke="#c8c8c8" stroke-width="0.6" />
<line x1="438.3" y1="225.99" x2="440.1" y2="225.99" stroke="#c8c8c8" stroke-width="0.6" />
<line x1="462.6" y1="240.05" x2="462.6" y2="221.31" stroke="#c8c8c8" stroke-width="0.6" />
<line x1="461.7" y1="221.31" x2="463.5" y2="221.31" stroke="#c8c8c8" stroke-width="0.6" />
<line x1="486" y1="242.86" x2="486" y2="225.99" stroke="#c8c8c8" stroke-width="0.6" />
<line x1="485.1" y1="225.99" x2="486.9" y2="225.99" stroke="#c8c8c8" stroke-width="0.6" />
<line x1="509.4" y1="254.1" x2="509.4" y2="235.37" stroke="#c8c8c8" stroke-width="0.6" />
<line x1="508.5" y1="235.37" x2="510.3" y2="235.37" stroke="#c8c8c8" stroke-width="0.6" />
<line x1="532.8" y1="258.79" x2="532.8" y2="240.05" stroke="#c8c8c8" stroke-width="0.6" />
<line x1="531.9" y1="240.05" x2="533.7" y2="240.05" stroke="#c8c8c8" stroke-width="0.6" />
<polyline points="415.8,249.42 439.2,235.37 462.6,240.05 486,242.86 509.4,254.1 532.8,258.79" fill="none" stroke="#bdbdbd" stroke-width="0.8" stroke-linejoin="round"/>
<rect x="414.95" y="248.57" width="1.7" height="1.7" fill="#9a9a9a"/>
<rect x="438.35" y="234.52" width="1.7" height="1.7" fill="#9a9a9a"/>
<rect x="461.75" y="239.2" width="1.7" height="1.7" fill="#9a9a9a"/>
<rect x="485.15" y="242.01" width="1.7" height="1.7" fill="#9a9a9a"/>
<rect x="508.55" y="253.25" width="1.7" height="1.7" fill="#9a9a9a"/>
<rect x="531.95" y="257.94" width="1.7" height="1.7" fill="#9a9a9a"/>
<line x1="415.8" y1="244.73" x2="415.8" y2="230.68" stroke="#262626" stroke-width="0.7" />
<line x1="414.9" y1="230.68" x2="416.7" y2="230.68" stroke="#262626" stroke-width="0.7" />
<line x1="439.2" y1="230.68" x2="439.2" y2="215.69" stroke="#262626" stroke-width="0.7" />
<line x1="438.3" y1="215.69" x2="440.1" y2="215.69" stroke="#262626" stroke-width="0.7" />
<line x1="462.6" y1="216.62" x2="462.6" y2="202.57" stroke="#262626" stroke-width="0.7" />
<line x1="461.7" y1="202.57" x2="463.5" y2="202.57" stroke="#262626" stroke-width="0.7" />
<line x1="486" y1="230.68" x2="486" y2="211.94" stroke="#262626" stroke-width="0.7" />
<line x1="485.1" y1="211.94" x2="486.9" y2="211.94" stroke="#262626" stroke-width="0.7" />
<line x1="509.4" y1="230.68" x2="509.4" y2="211.94" stroke="#262626" stroke-width="0.7" />
<line x1="508.5" y1="211.94" x2="510.3" y2="211.94" stroke="#262626" stroke-width="0.7" />
<line x1="532.8" y1="244.73" x2="532.8" y2="219.9" stroke="#262626" stroke-width="0.7" />
<line x1="531.9" y1="219.9" x2="533.7" y2="219.9" stroke="#262626" stroke-width="0.7" />
<polyline points="415.8,244.73 439.2,230.68 462.6,216.62 486,230.68 509.4,230.68 532.8,244.73" fill="none" stroke="#262626" stroke-width="0.7" stroke-linejoin="round"/>
<rect x="414.9" y="243.83" width="1.8" height="1.8" fill="#262626"/>
<rect x="438.3" y="229.78" width="1.8" height="1.8" fill="#262626"/>
<rect x="461.7" y="215.72" width="1.8" height="1.8" fill="#262626"/>
<rect x="485.1" y="229.78" width="1.8" height="1.8" fill="#262626"/>
<rect x="508.5" y="229.78" width="1.8" height="1.8" fill="#262626"/>
<rect x="531.9" y="243.83" width="1.8" height="1.8" fill="#262626"/>
<line x1="415.8" y1="249.42" x2="415.8" y2="236.77" stroke="#f2a6a8" stroke-width="0.7" />
<line x1="414.9" y1="236.77" x2="416.7" y2="236.77" stroke="#e83a3e" stroke-width="0.7" />
<line x1="439.2" y1="240.05" x2="439.2" y2="225.99" stroke="#f2a6a8" stroke-width="0.7" />
<line x1="438.3" y1="225.99" x2="440.1" y2="225.99" stroke="#e83a3e" stroke-width="0.7" />
<line x1="462.6" y1="225.99" x2="462.6" y2="211.94" stroke="#f2a6a8" stroke-width="0.7" />
<line x1="461.7" y1="211.94" x2="463.5" y2="211.94" stroke="#e83a3e" stroke-width="0.7" />
<line x1="486" y1="244.73" x2="486" y2="227.4" stroke="#f2a6a8" stroke-width="0.7" />
<line x1="485.1" y1="227.4" x2="486.9" y2="227.4" stroke="#e83a3e" stroke-width="0.7" />
<line x1="509.4" y1="258.79" x2="509.4" y2="235.83" stroke="#f2a6a8" stroke-width="0.7" />
<line x1="508.5" y1="235.83" x2="510.3" y2="235.83" stroke="#e83a3e" stroke-width="0.7" />
<line x1="532.8" y1="272.84" x2="532.8" y2="244.73" stroke="#f2a6a8" stroke-width="0.7" />
<line x1="531.9" y1="244.73" x2="533.7" y2="244.73" stroke="#e83a3e" stroke-width="0.7" />
<polyline points="415.8,249.42 439.2,240.05 462.6,225.99 486,244.73 509.4,258.79 532.8,272.84" fill="none" stroke="#f01c24" stroke-width="0.75" stroke-linejoin="round"/>
<circle cx="415.8" cy="249.42" r="1.25" fill="#f01c24"/>
<circle cx="439.2" cy="240.05" r="1.25" fill="#f01c24"/>
<circle cx="462.6" cy="225.99" r="1.25" fill="#f01c24"/>
<circle cx="486" cy="244.73" r="1.25" fill="#f01c24"/>
<circle cx="509.4" cy="258.79" r="1.25" fill="#f01c24"/>
<circle cx="532.8" cy="272.84" r="1.25" fill="#f01c24"/>
<line x1="404.3" y1="192.4" x2="404.3" y2="287.6" stroke="#4a4a4a" stroke-width="1.6" />
<line x1="400.5" y1="286.9" x2="404.3" y2="286.9" stroke="#333" stroke-width="1.1" />
<text x="399.6" y="289.35" font-size="6.9" text-anchor="end" fill="#444" font-weight="normal" stroke="#444" stroke-width="0.15" >3.5</text>
<line x1="400.5" y1="263.47" x2="404.3" y2="263.47" stroke="#333" stroke-width="1.1" />
<text x="399.6" y="265.92" font-size="6.9" text-anchor="end" fill="#444" font-weight="normal" stroke="#444" stroke-width="0.15" >4.0</text>
<line x1="400.5" y1="240.05" x2="404.3" y2="240.05" stroke="#333" stroke-width="1.1" />
<text x="399.6" y="242.5" font-size="6.9" text-anchor="end" fill="#444" font-weight="normal" stroke="#444" stroke-width="0.15" >4.5</text>
<line x1="400.5" y1="216.62" x2="404.3" y2="216.62" stroke="#333" stroke-width="1.1" />
<text x="399.6" y="219.07" font-size="6.9" text-anchor="end" fill="#444" font-weight="normal" stroke="#444" stroke-width="0.15" >5.0</text>
<line x1="400.5" y1="193.2" x2="404.3" y2="193.2" stroke="#333" stroke-width="1.1" />
<text x="399.6" y="195.65" font-size="6.9" text-anchor="end" fill="#444" font-weight="normal" stroke="#444" stroke-width="0.15" >5.5</text>
<line x1="401.4" y1="287" x2="544.5" y2="287" stroke="#333" stroke-width="1.3" />
<line x1="415.8" y1="287" x2="415.8" y2="290.7" stroke="#333" stroke-width="1.0" />
<text x="415.8" y="297.4" font-size="5.0" text-anchor="middle" fill="#555" font-weight="normal" stroke="#555" stroke-width="0.2" >0</text>
<line x1="439.2" y1="287" x2="439.2" y2="290.7" stroke="#333" stroke-width="1.0" />
<text x="439.2" y="297.4" font-size="5.0" text-anchor="middle" fill="#555" font-weight="normal" stroke="#555" stroke-width="0.2" >1</text>
<line x1="462.6" y1="287" x2="462.6" y2="290.7" stroke="#333" stroke-width="1.0" />
<text x="462.6" y="297.4" font-size="5.0" text-anchor="middle" fill="#555" font-weight="normal" stroke="#555" stroke-width="0.2" >2</text>
<line x1="486" y1="287" x2="486" y2="290.7" stroke="#333" stroke-width="1.0" />
<text x="486" y="297.4" font-size="5.0" text-anchor="middle" fill="#555" font-weight="normal" stroke="#555" stroke-width="0.2" >3</text>
<line x1="509.4" y1="287" x2="509.4" y2="290.7" stroke="#333" stroke-width="1.0" />
<text x="509.4" y="297.4" font-size="5.0" text-anchor="middle" fill="#555" font-weight="normal" stroke="#555" stroke-width="0.2" >4</text>
<line x1="532.8" y1="287" x2="532.8" y2="290.7" stroke="#333" stroke-width="1.0" />
<text x="532.8" y="297.4" font-size="5.0" text-anchor="middle" fill="#555" font-weight="normal" stroke="#555" stroke-width="0.2" >5</text>
<text x="465.8" y="309.2" font-size="8.2" text-anchor="start" fill="#222" font-weight="normal" stroke="#222" stroke-width="0.25" textLength="17" lengthAdjust="spacingAndGlyphs" >Days</text>
<text x="0" y="0" font-size="7.4" text-anchor="middle" fill="#444" font-weight="normal" stroke="#444" stroke-width="0.12" textLength="35.4" lengthAdjust="spacingAndGlyphs" transform="translate(385.5,238.7) rotate(-90)">TTCI score</text>
</svg></body></html>
